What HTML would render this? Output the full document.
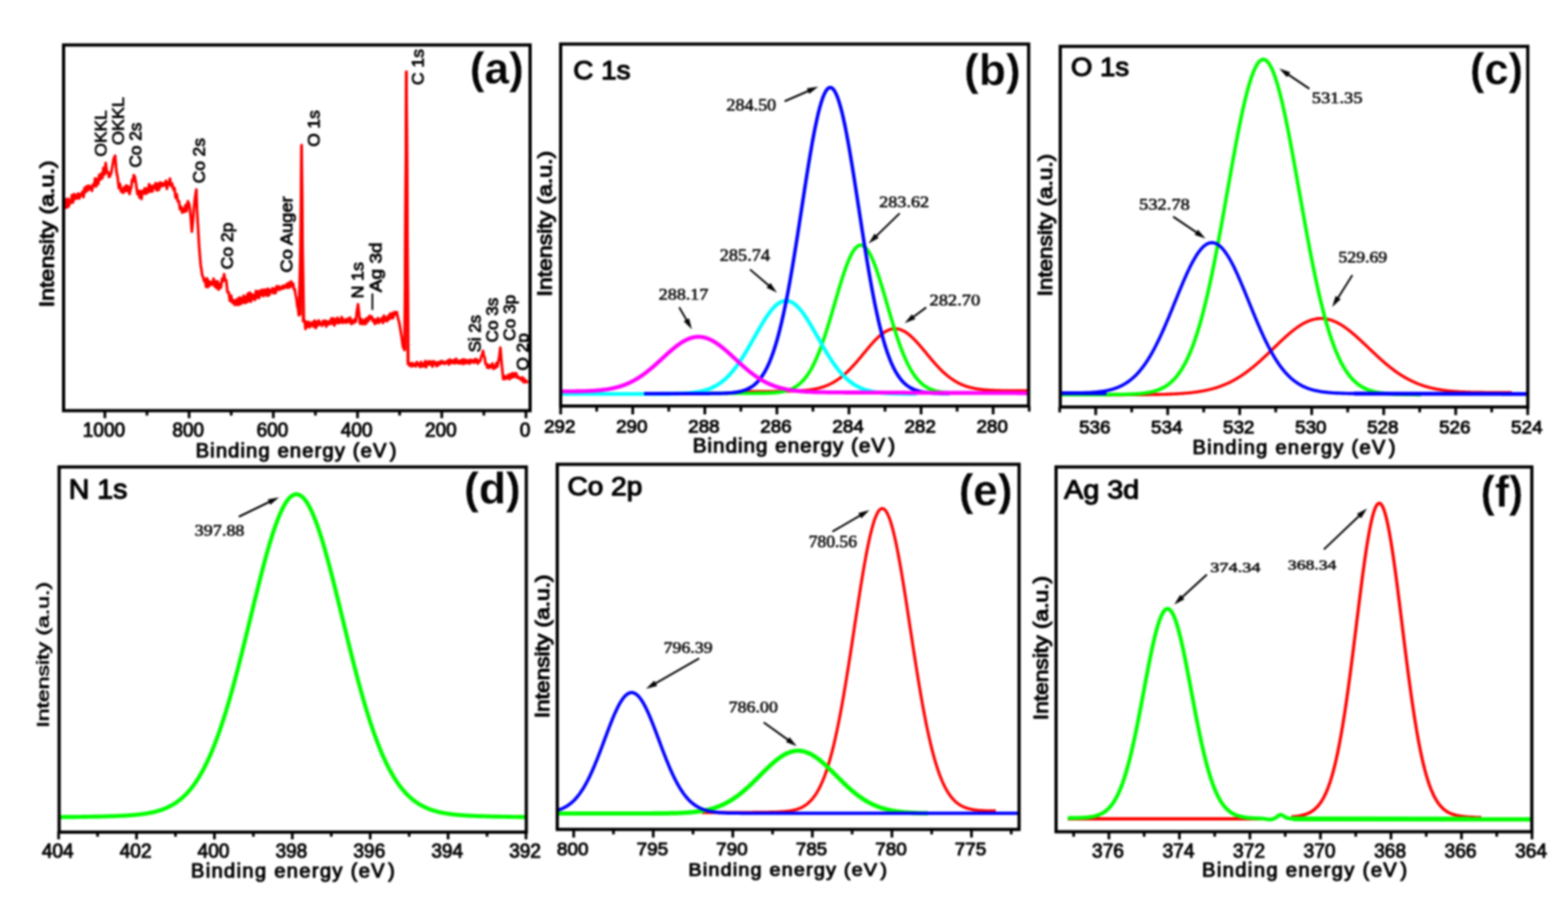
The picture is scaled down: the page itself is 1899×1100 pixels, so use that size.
<!DOCTYPE html>
<html lang="en"><head><meta charset="utf-8"><title>XPS spectra</title>
<style>
html,body{margin:0;padding:0;background:#fff;}
body{width:1899px;height:1100px;overflow:hidden;}
svg{display:block;filter:blur(0.85px);}
text{white-space:pre;}
</style></head><body>
<svg width="1899" height="1100" viewBox="0 0 1899 1100" id="fig">
<rect x="0" y="0" width="1899" height="1100" fill="#fff"/>
<defs><clipPath id="clipA"><rect x="77.0" y="54.5" width="563.8" height="443.0"/></clipPath></defs>
<polyline points="77.0,244.2 78.3,251.8 79.5,241.7 80.8,251.6 82.1,240.6 83.3,250.0 84.6,242.6 85.9,245.7 87.1,236.3 88.4,245.3 89.7,235.1 90.9,241.2 92.2,236.3 93.5,240.3 94.7,234.4 96.0,240.5 97.3,235.1 98.6,236.8 99.9,232.3 101.1,238.9 102.4,227.7 103.7,232.8 105.0,225.6 106.3,230.9 107.6,224.9 108.9,229.0 110.1,225.9 111.4,231.2 112.7,223.3 114.0,225.6 115.2,216.2 116.5,225.8 117.8,216.8 119.0,222.9 120.2,212.0 121.5,217.6 122.8,210.1 124.0,215.8 125.3,203.5 126.7,211.3 128.0,197.5 129.5,209.0 131.0,208.7 132.0,214.4 133.0,213.6 134.5,210.1 136.0,202.2 137.6,192.7 139.4,188.6 141.0,207.6 142.5,215.1 144.0,228.0 145.3,222.8 146.7,232.2 148.0,229.0 149.2,233.7 150.5,226.6 151.8,231.6 153.0,224.7 154.2,231.3 155.5,225.8 156.8,235.1 158.0,229.6 159.0,226.9 160.0,217.7 161.0,219.9 162.0,212.1 163.4,214.4 165.0,224.5 166.5,235.2 168.0,231.5 169.0,239.4 170.0,231.5 171.3,241.0 172.7,231.5 174.0,234.2 175.3,228.1 176.7,234.9 178.0,228.3 179.3,233.1 180.7,223.1 182.0,232.1 183.3,225.7 184.6,232.0 185.9,225.0 187.2,228.0 188.5,221.9 189.8,230.7 191.1,222.7 192.4,230.1 193.7,221.1 195.0,226.0 196.2,221.8 197.4,225.0 198.6,222.3 199.8,224.5 201.0,219.0 202.2,228.8 203.4,221.2 204.6,223.4 205.8,216.3 207.0,225.2 208.5,222.5 210.0,229.7 211.3,227.8 212.7,239.5 214.0,235.3 215.3,243.9 216.7,243.6 218.0,253.5 219.3,250.4 220.7,257.6 222.0,253.0 223.3,256.6 224.7,248.4 226.0,255.7 227.5,243.8 229.0,246.9 230.0,253.0 231.0,263.1 232.4,280.5 234.0,264.0 235.0,250.2 236.0,241.1 237.8,229.6 238.6,254.0 240.0,277.7 241.0,296.1 242.0,308.8 243.0,320.7 244.0,326.9 245.0,333.8 246.0,335.5 247.2,340.5 248.4,338.1 249.6,347.5 250.8,337.1 252.0,347.7 253.3,340.7 254.7,345.5 256.0,341.9 257.3,344.5 258.7,337.7 260.0,347.1 261.2,340.9 262.4,349.0 263.6,341.0 264.8,350.9 266.0,344.1 267.5,348.5 269.0,337.7 270.2,340.6 271.4,332.2 272.7,339.7 274.0,339.5 275.5,354.1 277.0,354.1 278.5,364.6 280.0,358.2 281.3,366.7 282.7,363.8 284.0,369.2 285.2,363.9 286.5,369.2 287.7,362.1 288.9,369.3 290.2,360.3 291.4,368.4 292.6,361.1 293.8,366.7 295.1,358.2 296.3,367.0 297.5,359.6 298.8,366.4 300.0,355.8 301.2,364.7 302.5,354.4 303.8,365.6 305.0,356.4 306.2,362.3 307.5,357.4 308.8,363.3 310.0,352.4 311.2,360.5 312.5,353.2 313.8,361.1 315.0,352.2 316.2,357.5 317.5,351.2 318.8,358.8 320.0,351.1 321.2,357.2 322.5,350.6 323.8,358.4 325.0,349.8 326.2,357.4 327.5,351.8 328.8,353.7 330.0,349.3 331.2,355.4 332.5,349.6 333.8,354.9 335.0,346.8 336.2,351.1 337.5,346.9 338.8,351.0 340.0,348.0 341.2,349.9 342.5,346.2 343.8,349.3 345.0,346.0 346.2,348.1 347.5,344.0 348.8,348.7 350.0,342.4 351.3,347.8 352.7,341.0 354.0,346.4 355.0,343.6 356.0,350.5 357.0,350.1 358.0,357.0 359.0,361.5 360.0,370.0 361.0,374.1 362.0,382.0 364.0,300.0 365.3,176.0 366.5,300.0 368.0,389.7 369.0,388.3 370.0,398.6 371.2,390.0 372.5,395.8 373.8,389.8 375.0,396.5 376.2,391.5 377.5,394.3 378.8,390.3 380.0,395.7 381.2,388.3 382.5,397.4 383.8,389.8 385.0,394.3 386.2,388.1 387.5,393.0 388.8,391.2 390.0,394.7 391.2,388.9 392.5,392.7 393.8,388.5 395.0,395.6 396.2,389.3 397.5,393.1 398.8,389.5 400.0,392.2 401.2,385.8 402.5,392.2 403.8,385.6 405.0,394.3 406.2,387.0 407.5,391.1 408.8,384.8 410.0,391.7 411.2,387.1 412.5,390.6 413.8,384.1 415.0,391.0 416.2,387.0 417.5,390.6 418.8,387.2 420.0,390.9 421.3,386.0 422.7,389.9 424.0,384.8 425.3,392.6 426.7,388.1 428.0,391.5 429.5,387.0 431.0,389.8 432.3,376.5 433.6,368.6 434.8,378.9 436.0,392.1 437.3,386.3 438.7,392.5 440.0,388.1 441.2,392.7 442.4,386.8 443.6,392.0 444.8,385.1 446.0,389.0 447.5,382.7 449.0,386.1 450.2,383.4 451.5,389.0 452.8,387.1 454.0,392.5 455.2,387.4 456.5,391.0 457.7,385.3 458.9,391.2 460.2,387.3 461.4,389.1 462.6,385.1 463.8,391.3 465.1,382.3 466.3,388.7 467.5,385.0 468.8,389.1 470.0,382.9 471.2,386.9 472.4,380.1 473.6,385.6 474.8,379.5 476.0,385.3 477.5,378.1 479.0,380.9 480.5,378.0 482.0,385.5 483.5,390.9 485.0,399.6 486.5,408.7 488.0,420.0 490.0,424.0 491.0,300.0 492.2,87.0 493.5,300.0 494.5,438.6 495.8,442.8 497.1,440.1 498.4,443.9 499.7,440.0 501.0,443.1 502.2,440.9 503.5,443.9 504.8,438.6 506.1,442.3 507.4,440.5 508.7,444.6 510.0,438.5 511.2,443.9 512.5,440.7 513.8,443.9 515.0,437.4 516.2,444.8 517.5,438.3 518.8,441.5 520.0,437.6 521.2,441.7 522.5,438.2 523.8,444.1 525.0,437.7 526.2,441.1 527.5,439.0 528.8,443.6 530.0,439.2 531.2,442.2 532.5,438.2 533.8,440.6 535.0,437.3 536.2,440.1 537.5,438.6 538.8,440.8 540.0,438.5 541.2,439.7 542.5,436.8 543.8,441.6 545.0,435.5 546.2,439.5 547.5,436.9 548.8,439.7 550.0,436.1 551.2,440.1 552.5,434.6 553.8,439.5 555.0,437.3 556.2,440.4 557.5,436.9 558.8,440.0 560.0,435.6 561.2,441.0 562.5,435.5 563.8,439.9 565.0,436.5 566.2,439.7 567.5,436.6 568.8,440.5 570.0,435.8 571.2,438.6 572.5,436.8 573.8,439.3 575.0,435.1 576.2,438.8 577.5,435.3 578.8,440.4 580.0,437.3 581.5,437.5 583.0,431.3 584.0,429.8 585.0,425.1 586.0,431.4 587.0,432.7 588.0,440.8 589.0,440.7 590.2,445.3 591.4,442.1 592.7,445.7 593.9,442.7 595.1,444.5 596.3,440.4 597.6,446.9 598.8,443.6 600.0,445.8 601.2,439.6 602.3,444.1 603.5,438.8 604.8,431.3 606.0,421.1 607.0,434.1 608.0,444.6 609.5,459.3 610.8,455.6 612.0,459.1 613.2,456.0 614.5,458.1 615.8,454.1 617.0,459.4 618.2,453.5 619.3,457.7 620.5,452.3 621.7,456.9 622.8,452.3 624.0,456.1 625.2,452.2 626.4,457.5 627.6,456.3 628.8,458.6 630.0,458.0 631.3,460.3 632.6,457.1 633.9,463.0 635.1,459.0 636.4,463.1 637.7,461.5 639.0,464.0" fill="none" stroke="#ff0000" stroke-width="3.3" stroke-linejoin="round" stroke-linecap="butt"/>
<polyline points="363.6,382.0 365.3,176.0 367.0,390.0" fill="none" stroke="#ff0000" stroke-width="3.0" stroke-linejoin="round" stroke-linecap="butt"/>
<polyline points="490.3,424.0 492.2,87.0 494.0,442.0" fill="none" stroke="#ff0000" stroke-width="3.2" stroke-linejoin="round" stroke-linecap="butt"/>
<rect x="77.00" y="54.50" width="565.00" height="443.00" fill="none" stroke="#000" stroke-width="3.9"/>
<line x1="127.00" y1="497.50" x2="127.00" y2="506.60" stroke="#000" stroke-width="3.3" stroke-linecap="butt"/>
<line x1="229.00" y1="497.50" x2="229.00" y2="506.60" stroke="#000" stroke-width="3.3" stroke-linecap="butt"/>
<line x1="331.00" y1="497.50" x2="331.00" y2="506.60" stroke="#000" stroke-width="3.3" stroke-linecap="butt"/>
<line x1="433.00" y1="497.50" x2="433.00" y2="506.60" stroke="#000" stroke-width="3.3" stroke-linecap="butt"/>
<line x1="535.00" y1="497.50" x2="535.00" y2="506.60" stroke="#000" stroke-width="3.3" stroke-linecap="butt"/>
<line x1="637.00" y1="497.50" x2="637.00" y2="506.60" stroke="#000" stroke-width="3.3" stroke-linecap="butt"/>
<line x1="178.00" y1="497.50" x2="178.00" y2="503.40" stroke="#000" stroke-width="3.3" stroke-linecap="butt"/>
<line x1="280.00" y1="497.50" x2="280.00" y2="503.40" stroke="#000" stroke-width="3.3" stroke-linecap="butt"/>
<line x1="382.00" y1="497.50" x2="382.00" y2="503.40" stroke="#000" stroke-width="3.3" stroke-linecap="butt"/>
<line x1="484.00" y1="497.50" x2="484.00" y2="503.40" stroke="#000" stroke-width="3.3" stroke-linecap="butt"/>
<line x1="586.00" y1="497.50" x2="586.00" y2="503.40" stroke="#000" stroke-width="3.3" stroke-linecap="butt"/>
<text transform="translate(100.28 528.92) scale(1.0000 1)" font-size="23.03" font-family="Liberation Sans, sans-serif" fill="#050505" stroke="#050505" stroke-width="1.1" stroke-linejoin="round">1000</text>
<text transform="translate(208.69 528.92) scale(1.0000 1)" font-size="23.03" font-family="Liberation Sans, sans-serif" fill="#050505" stroke="#050505" stroke-width="1.1" stroke-linejoin="round">800</text>
<text transform="translate(310.69 528.92) scale(1.0000 1)" font-size="23.03" font-family="Liberation Sans, sans-serif" fill="#050505" stroke="#050505" stroke-width="1.1" stroke-linejoin="round">600</text>
<text transform="translate(412.69 528.92) scale(1.0000 1)" font-size="23.03" font-family="Liberation Sans, sans-serif" fill="#050505" stroke="#050505" stroke-width="1.1" stroke-linejoin="round">400</text>
<text transform="translate(514.69 528.92) scale(1.0000 1)" font-size="23.03" font-family="Liberation Sans, sans-serif" fill="#050505" stroke="#050505" stroke-width="1.1" stroke-linejoin="round">200</text>
<text transform="translate(629.50 528.92) scale(1.0000 1)" font-size="23.03" font-family="Liberation Sans, sans-serif" fill="#050505" stroke="#050505" stroke-width="1.1" stroke-linejoin="round">0</text>
<text transform="translate(236.95 554.20) scale(1.0400 1)" font-size="23.48" letter-spacing="1.324" font-family="Liberation Sans, sans-serif" fill="#050505" stroke="#050505" stroke-width="1.2" stroke-linejoin="round">Binding energy (eV<tspan dx="2.50">)</tspan></text>
<text transform="translate(64.95 372.18) rotate(-90) scale(1.1332 1)" font-size="24.78" font-family="Liberation Sans, sans-serif" fill="#050505" stroke="#050505" stroke-width="1.3" stroke-linejoin="round">Intensity (a.u.)</text>
<text transform="translate(568.92 101.00) scale(0.9963 1)" font-size="53.80" font-family="Liberation Sans, sans-serif" font-weight="bold" fill="#050505" stroke="#fff" stroke-width="0.3" stroke-linejoin="round">(a)</text>
<text transform="translate(128.71 189.75) rotate(-90) scale(1.0925 1)" font-size="19.30" font-family="Liberation Sans, sans-serif" fill="#050505" stroke="#050505" stroke-width="0.8" stroke-linejoin="round">OKKL</text>
<text transform="translate(150.41 175.78) rotate(-90) scale(1.1325 1)" font-size="19.30" font-family="Liberation Sans, sans-serif" fill="#050505" stroke="#050505" stroke-width="0.8" stroke-linejoin="round">OKKL</text>
<text transform="translate(170.70 202.94) rotate(-90) scale(1.0661 1)" font-size="19.58" font-family="Liberation Sans, sans-serif" fill="#050505" stroke="#050505" stroke-width="1.0" stroke-linejoin="round">Co 2s</text>
<text transform="translate(248.10 221.94) rotate(-90) scale(1.0363 1)" font-size="20.14" font-family="Liberation Sans, sans-serif" fill="#050505" stroke="#050505" stroke-width="1.0" stroke-linejoin="round">Co 2s</text>
<text transform="translate(282.39 326.26) rotate(-90) scale(1.0223 1)" font-size="20.70" font-family="Liberation Sans, sans-serif" fill="#050505" stroke="#050505" stroke-width="1.0" stroke-linejoin="round">Co 2p</text>
<text transform="translate(354.10 330.21) rotate(-90) scale(1.1008 1)" font-size="20.14" font-family="Liberation Sans, sans-serif" fill="#050505" stroke="#050505" stroke-width="1.0" stroke-linejoin="round">Co Auger</text>
<text transform="translate(387.10 177.85) rotate(-90) scale(1.0444 1)" font-size="20.14" font-family="Liberation Sans, sans-serif" fill="#050505" stroke="#050505" stroke-width="1.0" stroke-linejoin="round">O 1s</text>
<text transform="translate(513.10 102.96) rotate(-90) scale(1.0510 1)" font-size="20.14" font-family="Liberation Sans, sans-serif" fill="#050505" stroke="#050505" stroke-width="1.0" stroke-linejoin="round">C 1s</text>
<text transform="translate(439.70 361.62) rotate(-90) scale(1.0979 1)" font-size="19.58" font-family="Liberation Sans, sans-serif" fill="#050505" stroke="#050505" stroke-width="1.0" stroke-linejoin="round">N 1s</text>
<text transform="translate(461.70 353.90) rotate(-90) scale(1.1781 1)" font-size="19.58" font-family="Liberation Sans, sans-serif" fill="#050505" stroke="#050505" stroke-width="1.0" stroke-linejoin="round">Ag 3d</text>
<line x1="451.00" y1="355.50" x2="451.00" y2="375.50" stroke="#111" stroke-width="2.3" stroke-linecap="butt"/>
<text transform="translate(582.10 426.82) rotate(-90) scale(1.0115 1)" font-size="20.14" font-family="Liberation Sans, sans-serif" fill="#050505" stroke="#050505" stroke-width="1.0" stroke-linejoin="round">Si 2s</text>
<text transform="translate(603.30 414.73) rotate(-90) scale(1.0264 1)" font-size="20.14" font-family="Liberation Sans, sans-serif" fill="#050505" stroke="#050505" stroke-width="1.0" stroke-linejoin="round">Co 3s</text>
<text transform="translate(623.89 412.95) rotate(-90) scale(1.0129 1)" font-size="20.70" font-family="Liberation Sans, sans-serif" fill="#050505" stroke="#050505" stroke-width="1.0" stroke-linejoin="round">Co 3p</text>
<g clip-path="url(#clipA)">
<text transform="translate(640.09 449.04) rotate(-90) scale(1.0101 1)" font-size="20.70" font-family="Liberation Sans, sans-serif" fill="#050505" stroke="#050505" stroke-width="1.0" stroke-linejoin="round">O 2p</text>
</g>
<polyline points="900.0,474.3 901.0,474.3 902.0,474.3 903.0,474.3 904.0,474.3 905.0,474.3 906.0,474.3 907.0,474.3 908.0,474.3 909.0,474.3 910.0,474.3 911.0,474.3 912.0,474.3 913.0,474.3 914.0,474.3 915.0,474.3 916.0,474.2 917.0,474.2 918.0,474.2 919.0,474.2 920.0,474.2 921.0,474.2 922.0,474.2 923.0,474.2 924.0,474.2 925.0,474.2 926.0,474.2 927.0,474.2 928.0,474.2 929.0,474.2 930.0,474.2 931.0,474.2 932.0,474.2 933.0,474.2 934.0,474.2 935.0,474.2 936.0,474.2 937.0,474.2 938.0,474.1 939.0,474.1 940.0,474.1 941.0,474.1 942.0,474.1 943.0,474.1 944.0,474.1 945.0,474.1 946.0,474.1 947.0,474.1 948.0,474.0 949.0,474.0 950.0,474.0 951.0,474.0 952.0,474.0 953.0,474.0 954.0,473.9 955.0,473.9 956.0,473.9 957.0,473.9 958.0,473.8 959.0,473.8 960.0,473.8 961.0,473.7 962.0,473.7 963.0,473.7 964.0,473.6 965.0,473.6 966.0,473.5 967.0,473.5 968.0,473.4 969.0,473.4 970.0,473.3 971.0,473.2 972.0,473.1 973.0,473.1 974.0,473.0 975.0,472.9 976.0,472.8 977.0,472.7 978.0,472.6 979.0,472.5 980.0,472.3 981.0,472.2 982.0,472.1 983.0,471.9 984.0,471.8 985.0,471.6 986.0,471.4 987.0,471.2 988.0,471.0 989.0,470.8 990.0,470.6 991.0,470.4 992.0,470.1 993.0,469.8 994.0,469.6 995.0,469.3 996.0,469.0 997.0,468.7 998.0,468.3 999.0,468.0 1000.0,467.6 1001.0,467.2 1002.0,466.8 1003.0,466.4 1004.0,465.9 1005.0,465.5 1006.0,465.0 1007.0,464.5 1008.0,463.9 1009.0,463.4 1010.0,462.8 1011.0,462.2 1012.0,461.6 1013.0,461.0 1014.0,460.3 1015.0,459.6 1016.0,458.9 1017.0,458.2 1018.0,457.5 1019.0,456.7 1020.0,455.9 1021.0,455.1 1022.0,454.2 1023.0,453.3 1024.0,452.5 1025.0,451.5 1026.0,450.6 1027.0,449.6 1028.0,448.7 1029.0,447.7 1030.0,446.6 1031.0,445.6 1032.0,444.5 1033.0,443.4 1034.0,442.3 1035.0,441.2 1036.0,440.1 1037.0,439.0 1038.0,437.8 1039.0,436.6 1040.0,435.4 1041.0,434.3 1042.0,433.1 1043.0,431.9 1044.0,430.6 1045.0,429.4 1046.0,428.2 1047.0,427.0 1048.0,425.8 1049.0,424.6 1050.0,423.4 1051.0,422.2 1052.0,421.0 1053.0,419.8 1054.0,418.6 1055.0,417.5 1056.0,416.4 1057.0,415.2 1058.0,414.1 1059.0,413.1 1060.0,412.0 1061.0,411.0 1062.0,410.0 1063.0,409.0 1064.0,408.1 1065.0,407.2 1066.0,406.3 1067.0,405.5 1068.0,404.7 1069.0,403.9 1070.0,403.2 1071.0,402.5 1072.0,401.9 1073.0,401.3 1074.0,400.8 1075.0,400.3 1076.0,399.9 1077.0,399.5 1078.0,399.1 1079.0,398.9 1080.0,398.6 1081.0,398.4 1082.0,398.3 1083.0,398.2 1084.0,398.2 1085.0,398.2 1086.0,398.3 1087.0,398.4 1088.0,398.6 1089.0,398.9 1090.0,399.1 1091.0,399.5 1092.0,399.9 1093.0,400.3 1094.0,400.8 1095.0,401.3 1096.0,401.9 1097.0,402.5 1098.0,403.2 1099.0,403.9 1100.0,404.7 1101.0,405.5 1102.0,406.3 1103.0,407.2 1104.0,408.1 1105.0,409.0 1106.0,410.0 1107.0,411.0 1108.0,412.0 1109.0,413.0 1110.0,414.1 1111.0,415.2 1112.0,416.3 1113.0,417.4 1114.0,418.6 1115.0,419.8 1116.0,420.9 1117.0,422.1 1118.0,423.3 1119.0,424.5 1120.0,425.7 1121.0,426.9 1122.0,428.1 1123.0,429.3 1124.0,430.5 1125.0,431.8 1126.0,432.9 1127.0,434.1 1128.0,435.3 1129.0,436.5 1130.0,437.7 1131.0,438.8 1132.0,439.9 1133.0,441.1 1134.0,442.2 1135.0,443.3 1136.0,444.3 1137.0,445.4 1138.0,446.4 1139.0,447.4 1140.0,448.4 1141.0,449.4 1142.0,450.4 1143.0,451.3 1144.0,452.2 1145.0,453.1 1146.0,453.9 1147.0,454.8 1148.0,455.6 1149.0,456.4 1150.0,457.2 1151.0,457.9 1152.0,458.6 1153.0,459.3 1154.0,460.0 1155.0,460.6 1156.0,461.3 1157.0,461.9 1158.0,462.5 1159.0,463.0 1160.0,463.6 1161.0,464.1 1162.0,464.6 1163.0,465.1 1164.0,465.5 1165.0,465.9 1166.0,466.4 1167.0,466.8 1168.0,467.1 1169.0,467.5 1170.0,467.9 1171.0,468.2 1172.0,468.5 1173.0,468.8 1174.0,469.1 1175.0,469.4 1176.0,469.6 1177.0,469.8 1178.0,470.1 1179.0,470.3 1180.0,470.5 1181.0,470.7 1182.0,470.9 1183.0,471.0 1184.0,471.2 1185.0,471.4 1186.0,471.5 1187.0,471.6 1188.0,471.8 1189.0,471.9 1190.0,472.0 1191.0,472.1 1192.0,472.2 1193.0,472.3 1194.0,472.4 1195.0,472.4 1196.0,472.5 1197.0,472.6 1198.0,472.6 1199.0,472.7 1200.0,472.8 1201.0,472.8 1202.0,472.8 1203.0,472.9 1204.0,472.9 1205.0,473.0 1206.0,473.0 1207.0,473.0 1208.0,473.1 1209.0,473.1 1210.0,473.1 1211.0,473.1 1212.0,473.2 1213.0,473.2 1214.0,473.2 1215.0,473.2 1216.0,473.2 1217.0,473.2 1218.0,473.2 1219.0,473.2 1220.0,473.3 1221.0,473.3 1222.0,473.3 1223.0,473.3 1224.0,473.3 1225.0,473.3 1226.0,473.3 1227.0,473.3 1228.0,473.3 1229.0,473.3 1230.0,473.3 1231.0,473.3 1232.0,473.3 1233.0,473.3 1234.0,473.3 1235.0,473.3 1236.0,473.3 1237.0,473.3 1238.0,473.3 1239.0,473.3 1240.0,473.3 1241.0,473.3 1242.0,473.3 1243.0,473.3 1244.0,473.3 1245.0,473.3" fill="none" stroke="#ff0000" stroke-width="3.6" stroke-linejoin="round" stroke-linecap="butt"/>
<polyline points="840.0,476.5 841.0,476.5 842.0,476.5 843.0,476.5 844.0,476.5 845.0,476.5 846.0,476.5 847.0,476.5 848.0,476.5 849.0,476.5 850.0,476.5 851.0,476.5 852.0,476.5 853.0,476.5 854.0,476.5 855.0,476.5 856.0,476.5 857.0,476.5 858.0,476.5 859.0,476.5 860.0,476.5 861.0,476.5 862.0,476.5 863.0,476.5 864.0,476.5 865.0,476.5 866.0,476.5 867.0,476.5 868.0,476.5 869.0,476.5 870.0,476.5 871.0,476.5 872.0,476.5 873.0,476.5 874.0,476.5 875.0,476.5 876.0,476.5 877.0,476.5 878.0,476.5 879.0,476.5 880.0,476.5 881.0,476.5 882.0,476.5 883.0,476.5 884.0,476.5 885.0,476.5 886.0,476.5 887.0,476.5 888.0,476.5 889.0,476.5 890.0,476.5 891.0,476.5 892.0,476.5 893.0,476.5 894.0,476.5 895.0,476.5 896.0,476.5 897.0,476.5 898.0,476.5 899.0,476.5 900.0,476.5 901.0,476.5 902.0,476.5 903.0,476.5 904.0,476.5 905.0,476.5 906.0,476.5 907.0,476.5 908.0,476.5 909.0,476.5 910.0,476.5 911.0,476.5 912.0,476.5 913.0,476.5 914.0,476.5 915.0,476.4 916.0,476.4 917.0,476.4 918.0,476.4 919.0,476.4 920.0,476.4 921.0,476.4 922.0,476.4 923.0,476.4 924.0,476.3 925.0,476.3 926.0,476.3 927.0,476.3 928.0,476.2 929.0,476.2 930.0,476.2 931.0,476.1 932.0,476.1 933.0,476.1 934.0,476.0 935.0,475.9 936.0,475.9 937.0,475.8 938.0,475.7 939.0,475.7 940.0,475.6 941.0,475.5 942.0,475.4 943.0,475.2 944.0,475.1 945.0,475.0 946.0,474.8 947.0,474.6 948.0,474.4 949.0,474.2 950.0,474.0 951.0,473.8 952.0,473.5 953.0,473.2 954.0,472.9 955.0,472.6 956.0,472.3 957.0,471.9 958.0,471.5 959.0,471.0 960.0,470.6 961.0,470.0 962.0,469.5 963.0,468.9 964.0,468.3 965.0,467.6 966.0,466.9 967.0,466.2 968.0,465.4 969.0,464.5 970.0,463.6 971.0,462.6 972.0,461.6 973.0,460.5 974.0,459.4 975.0,458.2 976.0,456.9 977.0,455.6 978.0,454.1 979.0,452.7 980.0,451.1 981.0,449.5 982.0,447.8 983.0,446.0 984.0,444.2 985.0,442.2 986.0,440.2 987.0,438.1 988.0,435.9 989.0,433.7 990.0,431.3 991.0,428.9 992.0,426.4 993.0,423.9 994.0,421.2 995.0,418.5 996.0,415.7 997.0,412.8 998.0,409.9 999.0,406.9 1000.0,403.8 1001.0,400.7 1002.0,397.5 1003.0,394.3 1004.0,391.0 1005.0,387.7 1006.0,384.4 1007.0,381.0 1008.0,377.6 1009.0,374.2 1010.0,370.7 1011.0,367.3 1012.0,363.8 1013.0,360.4 1014.0,357.0 1015.0,353.6 1016.0,350.2 1017.0,346.9 1018.0,343.6 1019.0,340.4 1020.0,337.2 1021.0,334.1 1022.0,331.1 1023.0,328.1 1024.0,325.3 1025.0,322.5 1026.0,319.9 1027.0,317.3 1028.0,314.9 1029.0,312.7 1030.0,310.5 1031.0,308.5 1032.0,306.6 1033.0,304.9 1034.0,303.4 1035.0,302.0 1036.0,300.8 1037.0,299.7 1038.0,298.8 1039.0,298.1 1040.0,297.6 1041.0,297.2 1042.0,297.0 1043.0,297.0 1044.0,297.2 1045.0,297.6 1046.0,298.1 1047.0,298.8 1048.0,299.7 1049.0,300.8 1050.0,302.0 1051.0,303.4 1052.0,304.9 1053.0,306.6 1054.0,308.5 1055.0,310.5 1056.0,312.7 1057.0,314.9 1058.0,317.3 1059.0,319.9 1060.0,322.5 1061.0,325.3 1062.0,328.1 1063.0,331.1 1064.0,334.1 1065.0,337.2 1066.0,340.4 1067.0,343.6 1068.0,346.9 1069.0,350.2 1070.0,353.6 1071.0,357.0 1072.0,360.4 1073.0,363.8 1074.0,367.3 1075.0,370.7 1076.0,374.2 1077.0,377.6 1078.0,381.0 1079.0,384.4 1080.0,387.7 1081.0,391.0 1082.0,394.3 1083.0,397.5 1084.0,400.7 1085.0,403.8 1086.0,406.9 1087.0,409.9 1088.0,412.8 1089.0,415.7 1090.0,418.5 1091.0,421.2 1092.0,423.9 1093.0,426.4 1094.0,428.9 1095.0,431.3 1096.0,433.7 1097.0,435.9 1098.0,438.1 1099.0,440.2 1100.0,442.2 1101.0,444.2 1102.0,446.0 1103.0,447.8 1104.0,449.5 1105.0,451.1 1106.0,452.7 1107.0,454.1 1108.0,455.6 1109.0,456.9 1110.0,458.2 1111.0,459.4 1112.0,460.5 1113.0,461.6 1114.0,462.6 1115.0,463.6 1116.0,464.5 1117.0,465.4 1118.0,466.2 1119.0,466.9 1120.0,467.6 1121.0,468.3 1122.0,468.9 1123.0,469.5 1124.0,470.0 1125.0,470.6 1126.0,471.0 1127.0,471.5 1128.0,471.9 1129.0,472.3 1130.0,472.6 1131.0,472.9 1132.0,473.2 1133.0,473.5 1134.0,473.8 1135.0,474.0 1136.0,474.2 1137.0,474.4 1138.0,474.6 1139.0,474.8 1140.0,475.0 1141.0,475.1 1142.0,475.2 1143.0,475.4 1144.0,475.5 1145.0,475.6 1146.0,475.7 1147.0,475.7 1148.0,475.8 1149.0,475.9 1150.0,475.9" fill="none" stroke="#00ff00" stroke-width="4.2" stroke-linejoin="round" stroke-linecap="butt"/>
<polyline points="680.0,477.2 681.0,477.2 682.0,477.2 683.0,477.2 684.0,477.2 685.0,477.2 686.0,477.2 687.0,477.2 688.0,477.2 689.0,477.2 690.0,477.2 691.0,477.2 692.0,477.2 693.0,477.2 694.0,477.2 695.0,477.2 696.0,477.2 697.0,477.2 698.0,477.2 699.0,477.2 700.0,477.2 701.0,477.2 702.0,477.2 703.0,477.2 704.0,477.2 705.0,477.2 706.0,477.2 707.0,477.2 708.0,477.2 709.0,477.2 710.0,477.2 711.0,477.2 712.0,477.2 713.0,477.2 714.0,477.2 715.0,477.2 716.0,477.2 717.0,477.2 718.0,477.2 719.0,477.2 720.0,477.2 721.0,477.2 722.0,477.2 723.0,477.2 724.0,477.2 725.0,477.2 726.0,477.2 727.0,477.2 728.0,477.2 729.0,477.2 730.0,477.2 731.0,477.2 732.0,477.2 733.0,477.2 734.0,477.2 735.0,477.2 736.0,477.2 737.0,477.2 738.0,477.2 739.0,477.2 740.0,477.2 741.0,477.2 742.0,477.2 743.0,477.2 744.0,477.2 745.0,477.2 746.0,477.2 747.0,477.2 748.0,477.2 749.0,477.2 750.0,477.2 751.0,477.2 752.0,477.2 753.0,477.2 754.0,477.2 755.0,477.2 756.0,477.2 757.0,477.2 758.0,477.2 759.0,477.2 760.0,477.2 761.0,477.2 762.0,477.2 763.0,477.2 764.0,477.2 765.0,477.2 766.0,477.2 767.0,477.2 768.0,477.2 769.0,477.2 770.0,477.2 771.0,477.2 772.0,477.2 773.0,477.2 774.0,477.2 775.0,477.2 776.0,477.2 777.0,477.2 778.0,477.2 779.0,477.2 780.0,477.2 781.0,477.2 782.0,477.2 783.0,477.2 784.0,477.2 785.0,477.2 786.0,477.2 787.0,477.2 788.0,477.2 789.0,477.2 790.0,477.2 791.0,477.2 792.0,477.2 793.0,477.2 794.0,477.2 795.0,477.2 796.0,477.2 797.0,477.2 798.0,477.2 799.0,477.2 800.0,477.2 801.0,477.1 802.0,477.1 803.0,477.1 804.0,477.1 805.0,477.1 806.0,477.1 807.0,477.1 808.0,477.1 809.0,477.1 810.0,477.1 811.0,477.1 812.0,477.0 813.0,477.0 814.0,477.0 815.0,477.0 816.0,477.0 817.0,477.0 818.0,476.9 819.0,476.9 820.0,476.9 821.0,476.9 822.0,476.8 823.0,476.8 824.0,476.8 825.0,476.7 826.0,476.7 827.0,476.6 828.0,476.6 829.0,476.5 830.0,476.5 831.0,476.4 832.0,476.3 833.0,476.2 834.0,476.2 835.0,476.1 836.0,476.0 837.0,475.9 838.0,475.8 839.0,475.7 840.0,475.6 841.0,475.4 842.0,475.3 843.0,475.1 844.0,475.0 845.0,474.8 846.0,474.7 847.0,474.5 848.0,474.3 849.0,474.1 850.0,473.8 851.0,473.6 852.0,473.3 853.0,473.1 854.0,472.8 855.0,472.5 856.0,472.2 857.0,471.8 858.0,471.5 859.0,471.1 860.0,470.7 861.0,470.3 862.0,469.9 863.0,469.4 864.0,468.9 865.0,468.4 866.0,467.9 867.0,467.3 868.0,466.8 869.0,466.2 870.0,465.5 871.0,464.9 872.0,464.2 873.0,463.5 874.0,462.7 875.0,461.9 876.0,461.1 877.0,460.3 878.0,459.4 879.0,458.5 880.0,457.6 881.0,456.6 882.0,455.6 883.0,454.6 884.0,453.5 885.0,452.4 886.0,451.2 887.0,450.1 888.0,448.9 889.0,447.6 890.0,446.4 891.0,445.0 892.0,443.7 893.0,442.3 894.0,440.9 895.0,439.5 896.0,438.0 897.0,436.5 898.0,435.0 899.0,433.5 900.0,431.9 901.0,430.3 902.0,428.7 903.0,427.0 904.0,425.3 905.0,423.7 906.0,422.0 907.0,420.2 908.0,418.5 909.0,416.7 910.0,415.0 911.0,413.2 912.0,411.4 913.0,409.7 914.0,407.9 915.0,406.1 916.0,404.3 917.0,402.6 918.0,400.8 919.0,399.1 920.0,397.3 921.0,395.6 922.0,393.9 923.0,392.3 924.0,390.6 925.0,389.0 926.0,387.4 927.0,385.8 928.0,384.3 929.0,382.8 930.0,381.4 931.0,380.0 932.0,378.6 933.0,377.3 934.0,376.1 935.0,374.9 936.0,373.7 937.0,372.6 938.0,371.6 939.0,370.7 940.0,369.7 941.0,368.9 942.0,368.1 943.0,367.4 944.0,366.8 945.0,366.2 946.0,365.8 947.0,365.3 948.0,365.0 949.0,364.7 950.0,364.6 951.0,364.4 952.0,364.4 953.0,364.4 954.0,364.6 955.0,364.7 956.0,365.0 957.0,365.3 958.0,365.8 959.0,366.2 960.0,366.8 961.0,367.4 962.0,368.1 963.0,368.9 964.0,369.7 965.0,370.7 966.0,371.6 967.0,372.6 968.0,373.7 969.0,374.9 970.0,376.1 971.0,377.3 972.0,378.6 973.0,380.0 974.0,381.4 975.0,382.8 976.0,384.3 977.0,385.8 978.0,387.4 979.0,389.0 980.0,390.6 981.0,392.3 982.0,393.9 983.0,395.6 984.0,397.3 985.0,399.1 986.0,400.8 987.0,402.6 988.0,404.3 989.0,406.1 990.0,407.9 991.0,409.7 992.0,411.4 993.0,413.2 994.0,415.0 995.0,416.7 996.0,418.5 997.0,420.2 998.0,422.0 999.0,423.7 1000.0,425.3 1001.0,427.0 1002.0,428.7 1003.0,430.3 1004.0,431.9 1005.0,433.5 1006.0,435.0 1007.0,436.5 1008.0,438.0 1009.0,439.5 1010.0,440.9 1011.0,442.3 1012.0,443.7 1013.0,445.0 1014.0,446.4 1015.0,447.6 1016.0,448.9 1017.0,450.1 1018.0,451.2 1019.0,452.4 1020.0,453.5 1021.0,454.6 1022.0,455.6 1023.0,456.6 1024.0,457.6 1025.0,458.5 1026.0,459.4 1027.0,460.3 1028.0,461.1 1029.0,461.9 1030.0,462.7 1031.0,463.5 1032.0,464.2 1033.0,464.9 1034.0,465.5 1035.0,466.2 1036.0,466.8 1037.0,467.3 1038.0,467.9 1039.0,468.4 1040.0,468.9 1041.0,469.4 1042.0,469.9 1043.0,470.3 1044.0,470.7 1045.0,471.1 1046.0,471.5 1047.0,471.8 1048.0,472.2 1049.0,472.5 1050.0,472.8 1051.0,473.1 1052.0,473.3 1053.0,473.6 1054.0,473.8 1055.0,474.1 1056.0,474.3 1057.0,474.5 1058.0,474.7 1059.0,474.8 1060.0,475.0 1061.0,475.1 1062.0,475.3 1063.0,475.4 1064.0,475.6 1065.0,475.7 1066.0,475.8 1067.0,475.9 1068.0,476.0 1069.0,476.1 1070.0,476.2 1071.0,476.2 1072.0,476.3 1073.0,476.4 1074.0,476.5 1075.0,476.5 1076.0,476.6 1077.0,476.6 1078.0,476.7 1079.0,476.7 1080.0,476.8 1081.0,476.8 1082.0,476.8 1083.0,476.9 1084.0,476.9 1085.0,476.9 1086.0,476.9 1087.0,477.0 1088.0,477.0 1089.0,477.0 1090.0,477.0 1091.0,477.0 1092.0,477.0 1093.0,477.1 1094.0,477.1 1095.0,477.1 1096.0,477.1 1097.0,477.1 1098.0,477.1 1099.0,477.1 1100.0,477.1 1101.0,477.1 1102.0,477.1 1103.0,477.1 1104.0,477.2 1105.0,477.2 1106.0,477.2 1107.0,477.2 1108.0,477.2 1109.0,477.2 1110.0,477.2" fill="none" stroke="#00ffff" stroke-width="4.6" stroke-linejoin="round" stroke-linecap="butt"/>
<polyline points="780.0,476.8 781.0,476.8 782.0,476.8 783.0,476.8 784.0,476.8 785.0,476.8 786.0,476.8 787.0,476.8 788.0,476.8 789.0,476.8 790.0,476.8 791.0,476.8 792.0,476.8 793.0,476.8 794.0,476.8 795.0,476.8 796.0,476.8 797.0,476.8 798.0,476.8 799.0,476.8 800.0,476.8 801.0,476.8 802.0,476.8 803.0,476.8 804.0,476.8 805.0,476.8 806.0,476.8 807.0,476.8 808.0,476.8 809.0,476.8 810.0,476.8 811.0,476.8 812.0,476.8 813.0,476.8 814.0,476.8 815.0,476.8 816.0,476.8 817.0,476.8 818.0,476.8 819.0,476.8 820.0,476.8 821.0,476.8 822.0,476.8 823.0,476.8 824.0,476.8 825.0,476.8 826.0,476.8 827.0,476.8 828.0,476.8 829.0,476.8 830.0,476.8 831.0,476.8 832.0,476.8 833.0,476.8 834.0,476.8 835.0,476.8 836.0,476.8 837.0,476.8 838.0,476.8 839.0,476.8 840.0,476.8 841.0,476.8 842.0,476.8 843.0,476.8 844.0,476.8 845.0,476.8 846.0,476.8 847.0,476.8 848.0,476.8 849.0,476.8 850.0,476.8 851.0,476.8 852.0,476.8 853.0,476.8 854.0,476.8 855.0,476.8 856.0,476.8 857.0,476.8 858.0,476.8 859.0,476.8 860.0,476.7 861.0,476.7 862.0,476.7 863.0,476.7 864.0,476.7 865.0,476.7 866.0,476.7 867.0,476.7 868.0,476.7 869.0,476.7 870.0,476.6 871.0,476.6 872.0,476.6 873.0,476.6 874.0,476.5 875.0,476.5 876.0,476.5 877.0,476.4 878.0,476.4 879.0,476.4 880.0,476.3 881.0,476.2 882.0,476.2 883.0,476.1 884.0,476.0 885.0,476.0 886.0,475.9 887.0,475.8 888.0,475.7 889.0,475.6 890.0,475.4 891.0,475.3 892.0,475.1 893.0,475.0 894.0,474.8 895.0,474.6 896.0,474.4 897.0,474.2 898.0,473.9 899.0,473.6 900.0,473.3 901.0,473.0 902.0,472.7 903.0,472.3 904.0,471.9 905.0,471.5 906.0,471.0 907.0,470.5 908.0,470.0 909.0,469.4 910.0,468.8 911.0,468.1 912.0,467.4 913.0,466.6 914.0,465.8 915.0,464.9 916.0,464.0 917.0,463.0 918.0,461.9 919.0,460.8 920.0,459.6 921.0,458.3 922.0,457.0 923.0,455.5 924.0,454.0 925.0,452.4 926.0,450.7 927.0,448.9 928.0,447.1 929.0,445.1 930.0,443.0 931.0,440.8 932.0,438.5 933.0,436.0 934.0,433.5 935.0,430.8 936.0,428.1 937.0,425.1 938.0,422.1 939.0,418.9 940.0,415.6 941.0,412.2 942.0,408.6 943.0,404.9 944.0,401.1 945.0,397.1 946.0,393.0 947.0,388.7 948.0,384.3 949.0,379.8 950.0,375.1 951.0,370.3 952.0,365.4 953.0,360.3 954.0,355.1 955.0,349.8 956.0,344.3 957.0,338.8 958.0,333.1 959.0,327.3 960.0,321.4 961.0,315.4 962.0,309.3 963.0,303.2 964.0,296.9 965.0,290.6 966.0,284.3 967.0,277.9 968.0,271.4 969.0,264.9 970.0,258.4 971.0,251.9 972.0,245.4 973.0,238.9 974.0,232.4 975.0,225.9 976.0,219.5 977.0,213.2 978.0,206.9 979.0,200.7 980.0,194.6 981.0,188.6 982.0,182.8 983.0,177.0 984.0,171.4 985.0,166.0 986.0,160.7 987.0,155.7 988.0,150.8 989.0,146.1 990.0,141.6 991.0,137.3 992.0,133.3 993.0,129.6 994.0,126.0 995.0,122.8 996.0,119.8 997.0,117.1 998.0,114.7 999.0,112.5 1000.0,110.7 1001.0,109.1 1002.0,107.9 1003.0,107.0 1004.0,106.4 1005.0,106.0 1006.0,106.0 1007.0,106.4 1008.0,107.0 1009.0,107.9 1010.0,109.1 1011.0,110.7 1012.0,112.5 1013.0,114.7 1014.0,117.1 1015.0,119.8 1016.0,122.8 1017.0,126.0 1018.0,129.6 1019.0,133.3 1020.0,137.3 1021.0,141.6 1022.0,146.1 1023.0,150.8 1024.0,155.7 1025.0,160.7 1026.0,166.0 1027.0,171.4 1028.0,177.0 1029.0,182.8 1030.0,188.6 1031.0,194.6 1032.0,200.7 1033.0,206.9 1034.0,213.2 1035.0,219.5 1036.0,225.9 1037.0,232.4 1038.0,238.9 1039.0,245.4 1040.0,251.9 1041.0,258.4 1042.0,264.9 1043.0,271.4 1044.0,277.9 1045.0,284.3 1046.0,290.6 1047.0,296.9 1048.0,303.2 1049.0,309.3 1050.0,315.4 1051.0,321.4 1052.0,327.3 1053.0,333.1 1054.0,338.8 1055.0,344.3 1056.0,349.8 1057.0,355.1 1058.0,360.3 1059.0,365.4 1060.0,370.3 1061.0,375.1 1062.0,379.8 1063.0,384.3 1064.0,388.7 1065.0,393.0 1066.0,397.1 1067.0,401.1 1068.0,404.9 1069.0,408.6 1070.0,412.2 1071.0,415.6 1072.0,418.9 1073.0,422.1 1074.0,425.1 1075.0,428.1 1076.0,430.8 1077.0,433.5 1078.0,436.0 1079.0,438.5 1080.0,440.8 1081.0,443.0 1082.0,445.1 1083.0,447.1 1084.0,448.9 1085.0,450.7 1086.0,452.4 1087.0,454.0 1088.0,455.5 1089.0,457.0 1090.0,458.3 1091.0,459.6 1092.0,460.8 1093.0,461.9 1094.0,463.0 1095.0,464.0 1096.0,464.9 1097.0,465.8 1098.0,466.6 1099.0,467.4 1100.0,468.1 1101.0,468.8 1102.0,469.4 1103.0,470.0 1104.0,470.5 1105.0,471.0 1106.0,471.5 1107.0,471.9 1108.0,472.3 1109.0,472.7 1110.0,473.0 1111.0,473.3 1112.0,473.6 1113.0,473.9 1114.0,474.2 1115.0,474.4 1116.0,474.6 1117.0,474.8 1118.0,475.0 1119.0,475.1 1120.0,475.3 1121.0,475.4 1122.0,475.6 1123.0,475.7 1124.0,475.8 1125.0,475.9 1126.0,476.0 1127.0,476.0 1128.0,476.1 1129.0,476.2 1130.0,476.2 1131.0,476.3 1132.0,476.4 1133.0,476.4 1134.0,476.4 1135.0,476.5 1136.0,476.5 1137.0,476.5 1138.0,476.6 1139.0,476.6 1140.0,476.6 1141.0,476.6 1142.0,476.7 1143.0,476.7 1144.0,476.7 1145.0,476.7 1146.0,476.7 1147.0,476.7 1148.0,476.7 1149.0,476.7 1150.0,476.7" fill="none" stroke="#0000ff" stroke-width="4.2" stroke-linejoin="round" stroke-linecap="butt"/>
<polyline points="680.0,474.1 681.0,474.1 682.0,474.1 683.0,474.1 684.0,474.1 685.0,474.1 686.0,474.1 687.0,474.1 688.0,474.1 689.0,474.1 690.0,474.1 691.0,474.1 692.0,474.1 693.0,474.1 694.0,474.1 695.0,474.1 696.0,474.1 697.0,474.1 698.0,474.0 699.0,474.0 700.0,474.0 701.0,474.0 702.0,474.0 703.0,474.0 704.0,473.9 705.0,473.9 706.0,473.9 707.0,473.9 708.0,473.8 709.0,473.8 710.0,473.8 711.0,473.7 712.0,473.7 713.0,473.6 714.0,473.6 715.0,473.6 716.0,473.5 717.0,473.5 718.0,473.4 719.0,473.3 720.0,473.3 721.0,473.2 722.0,473.1 723.0,473.0 724.0,473.0 725.0,472.9 726.0,472.8 727.0,472.7 728.0,472.6 729.0,472.5 730.0,472.4 731.0,472.2 732.0,472.1 733.0,472.0 734.0,471.8 735.0,471.7 736.0,471.5 737.0,471.4 738.0,471.2 739.0,471.0 740.0,470.8 741.0,470.6 742.0,470.4 743.0,470.2 744.0,470.0 745.0,469.7 746.0,469.5 747.0,469.2 748.0,469.0 749.0,468.7 750.0,468.4 751.0,468.1 752.0,467.8 753.0,467.4 754.0,467.1 755.0,466.7 756.0,466.4 757.0,466.0 758.0,465.6 759.0,465.2 760.0,464.7 761.0,464.3 762.0,463.8 763.0,463.4 764.0,462.9 765.0,462.4 766.0,461.9 767.0,461.3 768.0,460.8 769.0,460.2 770.0,459.7 771.0,459.1 772.0,458.5 773.0,457.8 774.0,457.2 775.0,456.6 776.0,455.9 777.0,455.2 778.0,454.5 779.0,453.8 780.0,453.1 781.0,452.3 782.0,451.6 783.0,450.8 784.0,450.0 785.0,449.2 786.0,448.4 787.0,447.6 788.0,446.8 789.0,445.9 790.0,445.1 791.0,444.2 792.0,443.4 793.0,442.5 794.0,441.6 795.0,440.7 796.0,439.8 797.0,438.9 798.0,438.0 799.0,437.1 800.0,436.2 801.0,435.2 802.0,434.3 803.0,433.4 804.0,432.5 805.0,431.6 806.0,430.6 807.0,429.7 808.0,428.8 809.0,427.9 810.0,427.0 811.0,426.2 812.0,425.3 813.0,424.4 814.0,423.6 815.0,422.7 816.0,421.9 817.0,421.1 818.0,420.3 819.0,419.5 820.0,418.7 821.0,418.0 822.0,417.3 823.0,416.6 824.0,415.9 825.0,415.2 826.0,414.6 827.0,414.0 828.0,413.4 829.0,412.8 830.0,412.3 831.0,411.8 832.0,411.3 833.0,410.9 834.0,410.4 835.0,410.1 836.0,409.7 837.0,409.4 838.0,409.1 839.0,408.8 840.0,408.6 841.0,408.4 842.0,408.3 843.0,408.2 844.0,408.1 845.0,408.0 846.0,408.0 847.0,408.0 848.0,408.1 849.0,408.2 850.0,408.3 851.0,408.4 852.0,408.6 853.0,408.8 854.0,409.1 855.0,409.4 856.0,409.7 857.0,410.1 858.0,410.5 859.0,410.9 860.0,411.3 861.0,411.8 862.0,412.3 863.0,412.8 864.0,413.4 865.0,414.0 866.0,414.6 867.0,415.2 868.0,415.9 869.0,416.6 870.0,417.3 871.0,418.0 872.0,418.8 873.0,419.5 874.0,420.3 875.0,421.1 876.0,421.9 877.0,422.8 878.0,423.6 879.0,424.5 880.0,425.3 881.0,426.2 882.0,427.1 883.0,428.0 884.0,428.9 885.0,429.8 886.0,430.8 887.0,431.7 888.0,432.6 889.0,433.5 890.0,434.4 891.0,435.4 892.0,436.3 893.0,437.2 894.0,438.1 895.0,439.1 896.0,440.0 897.0,440.9 898.0,441.8 899.0,442.7 900.0,443.6 901.0,444.4 902.0,445.3 903.0,446.2 904.0,447.0 905.0,447.9 906.0,448.7 907.0,449.5 908.0,450.3 909.0,451.1 910.0,451.9 911.0,452.7 912.0,453.4 913.0,454.1 914.0,454.9 915.0,455.6 916.0,456.3 917.0,456.9 918.0,457.6 919.0,458.3 920.0,458.9 921.0,459.5 922.0,460.1 923.0,460.7 924.0,461.3 925.0,461.8 926.0,462.4 927.0,462.9 928.0,463.4 929.0,463.9 930.0,464.4 931.0,464.8 932.0,465.3 933.0,465.7 934.0,466.1 935.0,466.5 936.0,466.9 937.0,467.3 938.0,467.7 939.0,468.0 940.0,468.4 941.0,468.7 942.0,469.0 943.0,469.3 944.0,469.6 945.0,469.9 946.0,470.2 947.0,470.4 948.0,470.7 949.0,470.9 950.0,471.1 951.0,471.4 952.0,471.6 953.0,471.8 954.0,472.0 955.0,472.1 956.0,472.3 957.0,472.5 958.0,472.6 959.0,472.8 960.0,472.9 961.0,473.1 962.0,473.2 963.0,473.3 964.0,473.4 965.0,473.6 966.0,473.7 967.0,473.8 968.0,473.9 969.0,473.9 970.0,474.0 971.0,474.1 972.0,474.2 973.0,474.3 974.0,474.3 975.0,474.4 976.0,474.5 977.0,474.5 978.0,474.6 979.0,474.6 980.0,474.7 981.0,474.7 982.0,474.8 983.0,474.8 984.0,474.8 985.0,474.9 986.0,474.9 987.0,475.0 988.0,475.0 989.0,475.0 990.0,475.0 991.0,475.1 992.0,475.1 993.0,475.1 994.0,475.1 995.0,475.2 996.0,475.2 997.0,475.2 998.0,475.2 999.0,475.2 1000.0,475.2 1001.0,475.3 1002.0,475.3 1003.0,475.3 1004.0,475.3 1005.0,475.3 1006.0,475.3 1007.0,475.3 1008.0,475.3 1009.0,475.4 1010.0,475.4 1011.0,475.4 1012.0,475.4 1013.0,475.4 1014.0,475.4 1015.0,475.4 1016.0,475.4 1017.0,475.4 1018.0,475.4 1019.0,475.4 1020.0,475.4 1021.0,475.4 1022.0,475.4 1023.0,475.5 1024.0,475.5 1025.0,475.5 1026.0,475.5 1027.0,475.5 1028.0,475.5 1029.0,475.5 1030.0,475.5 1031.0,475.5 1032.0,475.5 1033.0,475.5 1034.0,475.5 1035.0,475.5 1036.0,475.5 1037.0,475.5 1038.0,475.5 1039.0,475.5 1040.0,475.5 1041.0,475.5 1042.0,475.5 1043.0,475.5 1044.0,475.6 1045.0,475.6 1046.0,475.6 1047.0,475.6 1048.0,475.6 1049.0,475.6 1050.0,475.6 1051.0,475.6 1052.0,475.6 1053.0,475.6 1054.0,475.6 1055.0,475.6 1056.0,475.6 1057.0,475.6 1058.0,475.6 1059.0,475.6 1060.0,475.6 1061.0,475.6 1062.0,475.6 1063.0,475.6 1064.0,475.6 1065.0,475.6 1066.0,475.6 1067.0,475.6 1068.0,475.6 1069.0,475.6 1070.0,475.6 1071.0,475.7 1072.0,475.7 1073.0,475.7 1074.0,475.7 1075.0,475.7 1076.0,475.7 1077.0,475.7 1078.0,475.7 1079.0,475.7 1080.0,475.7 1081.0,475.7 1082.0,475.7 1083.0,475.7 1084.0,475.7 1085.0,475.7 1086.0,475.7 1087.0,475.7 1088.0,475.7 1089.0,475.7 1090.0,475.7 1091.0,475.7 1092.0,475.7 1093.0,475.7 1094.0,475.7 1095.0,475.7 1096.0,475.7 1097.0,475.7 1098.0,475.8 1099.0,475.8 1100.0,475.8 1101.0,475.8 1102.0,475.8 1103.0,475.8 1104.0,475.8 1105.0,475.8 1106.0,475.8 1107.0,475.8 1108.0,475.8 1109.0,475.8 1110.0,475.8 1111.0,475.8 1112.0,475.8 1113.0,475.8 1114.0,475.8 1115.0,475.8 1116.0,475.8 1117.0,475.8 1118.0,475.8 1119.0,475.8 1120.0,475.8 1121.0,475.8 1122.0,475.8 1123.0,475.8 1124.0,475.9 1125.0,475.9 1126.0,475.9 1127.0,475.9 1128.0,475.9 1129.0,475.9 1130.0,475.9 1131.0,475.9 1132.0,475.9 1133.0,475.9 1134.0,475.9 1135.0,475.9 1136.0,475.9 1137.0,475.9 1138.0,475.9 1139.0,475.9 1140.0,475.9 1141.0,475.9 1142.0,475.9 1143.0,475.9 1144.0,475.9 1145.0,475.9 1146.0,475.9 1147.0,475.9 1148.0,475.9 1149.0,475.9 1150.0,475.9 1151.0,476.0 1152.0,476.0 1153.0,476.0 1154.0,476.0 1155.0,476.0 1156.0,476.0 1157.0,476.0 1158.0,476.0 1159.0,476.0 1160.0,476.0 1161.0,476.0 1162.0,476.0 1163.0,476.0 1164.0,476.0 1165.0,476.0 1166.0,476.0 1167.0,476.0 1168.0,476.0 1169.0,476.0 1170.0,476.0 1171.0,476.0 1172.0,476.0 1173.0,476.0 1174.0,476.0 1175.0,476.0 1176.0,476.0 1177.0,476.0 1178.0,476.1 1179.0,476.1 1180.0,476.1 1181.0,476.1 1182.0,476.1 1183.0,476.1 1184.0,476.1 1185.0,476.1 1186.0,476.1 1187.0,476.1 1188.0,476.1 1189.0,476.1 1190.0,476.1 1191.0,476.1 1192.0,476.1 1193.0,476.1 1194.0,476.1 1195.0,476.1 1196.0,476.1 1197.0,476.1 1198.0,476.1 1199.0,476.1 1200.0,476.1 1201.0,476.1 1202.0,476.1 1203.0,476.1 1204.0,476.1 1205.0,476.2 1206.0,476.2 1207.0,476.2 1208.0,476.2 1209.0,476.2 1210.0,476.2 1211.0,476.2 1212.0,476.2 1213.0,476.2 1214.0,476.2 1215.0,476.2 1216.0,476.2 1217.0,476.2 1218.0,476.2 1219.0,476.2 1220.0,476.2 1221.0,476.2 1222.0,476.2 1223.0,476.2 1224.0,476.2 1225.0,476.2 1226.0,476.2 1227.0,476.2 1228.0,476.2 1229.0,476.2 1230.0,476.2 1231.0,476.2 1232.0,476.3 1233.0,476.3 1234.0,476.3 1235.0,476.3 1236.0,476.3 1237.0,476.3 1238.0,476.3 1239.0,476.3 1240.0,476.3 1241.0,476.3 1242.0,476.3 1243.0,476.3 1244.0,476.3 1245.0,476.3" fill="none" stroke="#ff00ff" stroke-width="4.8" stroke-linejoin="round" stroke-linecap="butt"/>
<rect x="679.00" y="53.40" width="566.80" height="438.50" fill="none" stroke="#000" stroke-width="3.9"/>
<line x1="679.00" y1="491.90" x2="679.00" y2="502.00" stroke="#000" stroke-width="3.3" stroke-linecap="butt"/>
<line x1="766.30" y1="491.90" x2="766.30" y2="502.00" stroke="#000" stroke-width="3.3" stroke-linecap="butt"/>
<line x1="853.60" y1="491.90" x2="853.60" y2="502.00" stroke="#000" stroke-width="3.3" stroke-linecap="butt"/>
<line x1="940.90" y1="491.90" x2="940.90" y2="502.00" stroke="#000" stroke-width="3.3" stroke-linecap="butt"/>
<line x1="1028.20" y1="491.90" x2="1028.20" y2="502.00" stroke="#000" stroke-width="3.3" stroke-linecap="butt"/>
<line x1="1115.50" y1="491.90" x2="1115.50" y2="502.00" stroke="#000" stroke-width="3.3" stroke-linecap="butt"/>
<line x1="1202.80" y1="491.90" x2="1202.80" y2="502.00" stroke="#000" stroke-width="3.3" stroke-linecap="butt"/>
<line x1="722.65" y1="491.90" x2="722.65" y2="498.60" stroke="#000" stroke-width="3.3" stroke-linecap="butt"/>
<line x1="809.95" y1="491.90" x2="809.95" y2="498.60" stroke="#000" stroke-width="3.3" stroke-linecap="butt"/>
<line x1="897.25" y1="491.90" x2="897.25" y2="498.60" stroke="#000" stroke-width="3.3" stroke-linecap="butt"/>
<line x1="984.55" y1="491.90" x2="984.55" y2="498.60" stroke="#000" stroke-width="3.3" stroke-linecap="butt"/>
<line x1="1071.85" y1="491.90" x2="1071.85" y2="498.60" stroke="#000" stroke-width="3.3" stroke-linecap="butt"/>
<line x1="1159.15" y1="491.90" x2="1159.15" y2="498.60" stroke="#000" stroke-width="3.3" stroke-linecap="butt"/>
<line x1="1246.45" y1="491.90" x2="1246.45" y2="498.60" stroke="#000" stroke-width="3.3" stroke-linecap="butt"/>
<text transform="translate(658.92 523.92) scale(1.0000 1)" font-size="22.75" font-family="Liberation Sans, sans-serif" fill="#050505" stroke="#050505" stroke-width="1.1" stroke-linejoin="round">292</text>
<text transform="translate(746.22 523.92) scale(1.0000 1)" font-size="22.75" font-family="Liberation Sans, sans-serif" fill="#050505" stroke="#050505" stroke-width="1.1" stroke-linejoin="round">290</text>
<text transform="translate(833.52 523.92) scale(1.0000 1)" font-size="22.75" font-family="Liberation Sans, sans-serif" fill="#050505" stroke="#050505" stroke-width="1.1" stroke-linejoin="round">288</text>
<text transform="translate(920.82 523.92) scale(1.0000 1)" font-size="22.75" font-family="Liberation Sans, sans-serif" fill="#050505" stroke="#050505" stroke-width="1.1" stroke-linejoin="round">286</text>
<text transform="translate(1008.12 523.92) scale(1.0000 1)" font-size="22.75" font-family="Liberation Sans, sans-serif" fill="#050505" stroke="#050505" stroke-width="1.1" stroke-linejoin="round">284</text>
<text transform="translate(1095.42 523.92) scale(1.0000 1)" font-size="22.75" font-family="Liberation Sans, sans-serif" fill="#050505" stroke="#050505" stroke-width="1.1" stroke-linejoin="round">282</text>
<text transform="translate(1182.72 523.92) scale(1.0000 1)" font-size="22.75" font-family="Liberation Sans, sans-serif" fill="#050505" stroke="#050505" stroke-width="1.1" stroke-linejoin="round">280</text>
<text transform="translate(838.90 548.40) scale(1.0400 1)" font-size="24.06" letter-spacing="1.151" font-family="Liberation Sans, sans-serif" fill="#050505" stroke="#050505" stroke-width="1.2" stroke-linejoin="round">Binding energy (eV<tspan dx="2.50">)</tspan></text>
<text transform="translate(667.95 359.36) rotate(-90) scale(1.1267 1)" font-size="24.78" font-family="Liberation Sans, sans-serif" fill="#050505" stroke="#050505" stroke-width="1.3" stroke-linejoin="round">Intensity (a.u.)</text>
<text transform="translate(1167.62 102.89) scale(0.9858 1)" font-size="54.33" font-family="Liberation Sans, sans-serif" font-weight="bold" fill="#050505" stroke="#fff" stroke-width="0.3" stroke-linejoin="round">(b)</text>
<text transform="translate(694.31 96.08) scale(1.0535 1)" font-size="32.04" font-family="Liberation Sans, sans-serif" fill="#050505" stroke="#050505" stroke-width="1.4" stroke-linejoin="round">C 1s</text>
<text transform="translate(879.81 134.19) scale(1.0642 1)" font-size="20.59" font-family="Liberation Serif, serif" fill="#1c1c1c" stroke="#050505" stroke-width="0.7" stroke-linejoin="round">284.50</text>
<line x1="951.00" y1="122.40" x2="980.45" y2="109.59" stroke="#050505" stroke-width="2.3" stroke-linecap="round"/>
<polygon points="991.00,105.00 980.10,113.78 977.14,106.99" fill="#050505"/>
<text transform="translate(871.81 316.19) scale(1.0723 1)" font-size="20.59" font-family="Liberation Serif, serif" fill="#1c1c1c" stroke="#050505" stroke-width="0.7" stroke-linejoin="round">285.74</text>
<line x1="909.00" y1="327.00" x2="932.26" y2="346.92" stroke="#050505" stroke-width="2.3" stroke-linecap="round"/>
<polygon points="941.00,354.40 928.34,348.43 933.15,342.81" fill="#050505"/>
<text transform="translate(797.82 363.21) scale(1.1424 1)" font-size="19.11" font-family="Liberation Serif, serif" fill="#1c1c1c" stroke="#050505" stroke-width="0.7" stroke-linejoin="round">288.17</text>
<line x1="823.00" y1="373.00" x2="832.25" y2="389.04" stroke="#050505" stroke-width="2.3" stroke-linecap="round"/>
<polygon points="838.00,399.00 828.05,389.16 834.46,385.46" fill="#050505"/>
<text transform="translate(1064.81 251.21) scale(1.1531 1)" font-size="19.11" font-family="Liberation Serif, serif" fill="#1c1c1c" stroke="#050505" stroke-width="0.7" stroke-linejoin="round">283.62</text>
<line x1="1089.00" y1="259.00" x2="1060.24" y2="286.98" stroke="#050505" stroke-width="2.3" stroke-linecap="round"/>
<polygon points="1052.00,295.00 1059.10,282.93 1064.26,288.24" fill="#050505"/>
<text transform="translate(1125.80 370.21) scale(1.1663 1)" font-size="19.11" font-family="Liberation Serif, serif" fill="#1c1c1c" stroke="#050505" stroke-width="0.7" stroke-linejoin="round">282.70</text>
<line x1="1121.00" y1="373.00" x2="1104.88" y2="384.81" stroke="#050505" stroke-width="2.3" stroke-linecap="round"/>
<polygon points="1095.60,391.60 1104.31,380.64 1108.68,386.61" fill="#050505"/>
<polyline points="1340.0,478.5 1341.0,478.5 1342.0,478.5 1343.0,478.5 1344.0,478.5 1345.0,478.5 1346.0,478.5 1347.0,478.5 1348.0,478.4 1349.0,478.4 1350.0,478.4 1351.0,478.4 1352.0,478.4 1353.0,478.4 1354.0,478.4 1355.0,478.4 1356.0,478.4 1357.0,478.4 1358.0,478.4 1359.0,478.4 1360.0,478.4 1361.0,478.4 1362.0,478.3 1363.0,478.3 1364.0,478.3 1365.0,478.3 1366.0,478.3 1367.0,478.3 1368.0,478.3 1369.0,478.3 1370.0,478.3 1371.0,478.3 1372.0,478.3 1373.0,478.3 1374.0,478.3 1375.0,478.2 1376.0,478.2 1377.0,478.2 1378.0,478.2 1379.0,478.2 1380.0,478.2 1381.0,478.2 1382.0,478.2 1383.0,478.2 1384.0,478.2 1385.0,478.1 1386.0,478.1 1387.0,478.1 1388.0,478.1 1389.0,478.1 1390.0,478.1 1391.0,478.1 1392.0,478.0 1393.0,478.0 1394.0,478.0 1395.0,478.0 1396.0,478.0 1397.0,478.0 1398.0,478.0 1399.0,477.9 1400.0,477.9 1401.0,477.9 1402.0,477.9 1403.0,477.9 1404.0,477.8 1405.0,477.8 1406.0,477.8 1407.0,477.8 1408.0,477.7 1409.0,477.7 1410.0,477.7 1411.0,477.7 1412.0,477.6 1413.0,477.6 1414.0,477.6 1415.0,477.5 1416.0,477.5 1417.0,477.4 1418.0,477.4 1419.0,477.4 1420.0,477.3 1421.0,477.3 1422.0,477.2 1423.0,477.2 1424.0,477.1 1425.0,477.1 1426.0,477.0 1427.0,477.0 1428.0,476.9 1429.0,476.8 1430.0,476.8 1431.0,476.7 1432.0,476.6 1433.0,476.6 1434.0,476.5 1435.0,476.4 1436.0,476.3 1437.0,476.3 1438.0,476.2 1439.0,476.1 1440.0,476.0 1441.0,475.9 1442.0,475.8 1443.0,475.7 1444.0,475.5 1445.0,475.4 1446.0,475.3 1447.0,475.2 1448.0,475.0 1449.0,474.9 1450.0,474.8 1451.0,474.6 1452.0,474.5 1453.0,474.3 1454.0,474.1 1455.0,474.0 1456.0,473.8 1457.0,473.6 1458.0,473.4 1459.0,473.2 1460.0,473.0 1461.0,472.8 1462.0,472.6 1463.0,472.4 1464.0,472.1 1465.0,471.9 1466.0,471.6 1467.0,471.4 1468.0,471.1 1469.0,470.9 1470.0,470.6 1471.0,470.3 1472.0,470.0 1473.0,469.7 1474.0,469.4 1475.0,469.0 1476.0,468.7 1477.0,468.3 1478.0,468.0 1479.0,467.6 1480.0,467.2 1481.0,466.8 1482.0,466.5 1483.0,466.0 1484.0,465.6 1485.0,465.2 1486.0,464.7 1487.0,464.3 1488.0,463.8 1489.0,463.3 1490.0,462.9 1491.0,462.4 1492.0,461.8 1493.0,461.3 1494.0,460.8 1495.0,460.2 1496.0,459.7 1497.0,459.1 1498.0,458.5 1499.0,457.9 1500.0,457.3 1501.0,456.7 1502.0,456.0 1503.0,455.4 1504.0,454.7 1505.0,454.1 1506.0,453.4 1507.0,452.7 1508.0,452.0 1509.0,451.3 1510.0,450.5 1511.0,449.8 1512.0,449.0 1513.0,448.3 1514.0,447.5 1515.0,446.7 1516.0,445.9 1517.0,445.1 1518.0,444.3 1519.0,443.4 1520.0,442.6 1521.0,441.8 1522.0,440.9 1523.0,440.0 1524.0,439.1 1525.0,438.3 1526.0,437.4 1527.0,436.5 1528.0,435.5 1529.0,434.6 1530.0,433.7 1531.0,432.8 1532.0,431.8 1533.0,430.9 1534.0,430.0 1535.0,429.0 1536.0,428.1 1537.0,427.1 1538.0,426.1 1539.0,425.2 1540.0,424.2 1541.0,423.2 1542.0,422.3 1543.0,421.3 1544.0,420.3 1545.0,419.4 1546.0,418.4 1547.0,417.4 1548.0,416.5 1549.0,415.5 1550.0,414.6 1551.0,413.6 1552.0,412.7 1553.0,411.8 1554.0,410.8 1555.0,409.9 1556.0,409.0 1557.0,408.1 1558.0,407.2 1559.0,406.3 1560.0,405.4 1561.0,404.6 1562.0,403.7 1563.0,402.9 1564.0,402.1 1565.0,401.2 1566.0,400.4 1567.0,399.7 1568.0,398.9 1569.0,398.1 1570.0,397.4 1571.0,396.7 1572.0,396.0 1573.0,395.3 1574.0,394.7 1575.0,394.0 1576.0,393.4 1577.0,392.8 1578.0,392.2 1579.0,391.7 1580.0,391.2 1581.0,390.6 1582.0,390.2 1583.0,389.7 1584.0,389.3 1585.0,388.9 1586.0,388.5 1587.0,388.1 1588.0,387.8 1589.0,387.5 1590.0,387.2 1591.0,386.9 1592.0,386.7 1593.0,386.5 1594.0,386.3 1595.0,386.1 1596.0,386.0 1597.0,385.9 1598.0,385.9 1599.0,385.8 1600.0,385.8 1601.0,385.8 1602.0,385.9 1603.0,385.9 1604.0,386.0 1605.0,386.1 1606.0,386.3 1607.0,386.5 1608.0,386.7 1609.0,386.9 1610.0,387.2 1611.0,387.5 1612.0,387.8 1613.0,388.1 1614.0,388.5 1615.0,388.8 1616.0,389.3 1617.0,389.7 1618.0,390.2 1619.0,390.6 1620.0,391.1 1621.0,391.7 1622.0,392.2 1623.0,392.8 1624.0,393.4 1625.0,394.0 1626.0,394.6 1627.0,395.3 1628.0,396.0 1629.0,396.7 1630.0,397.4 1631.0,398.1 1632.0,398.8 1633.0,399.6 1634.0,400.4 1635.0,401.2 1636.0,402.0 1637.0,402.8 1638.0,403.6 1639.0,404.5 1640.0,405.3 1641.0,406.2 1642.0,407.1 1643.0,408.0 1644.0,408.9 1645.0,409.8 1646.0,410.7 1647.0,411.6 1648.0,412.5 1649.0,413.5 1650.0,414.4 1651.0,415.3 1652.0,416.3 1653.0,417.2 1654.0,418.2 1655.0,419.1 1656.0,420.1 1657.0,421.0 1658.0,422.0 1659.0,422.9 1660.0,423.9 1661.0,424.8 1662.0,425.8 1663.0,426.7 1664.0,427.7 1665.0,428.6 1666.0,429.6 1667.0,430.5 1668.0,431.4 1669.0,432.3 1670.0,433.3 1671.0,434.2 1672.0,435.1 1673.0,436.0 1674.0,436.9 1675.0,437.7 1676.0,438.6 1677.0,439.5 1678.0,440.3 1679.0,441.2 1680.0,442.0 1681.0,442.8 1682.0,443.6 1683.0,444.4 1684.0,445.2 1685.0,446.0 1686.0,446.8 1687.0,447.5 1688.0,448.3 1689.0,449.0 1690.0,449.8 1691.0,450.5 1692.0,451.2 1693.0,451.9 1694.0,452.5 1695.0,453.2 1696.0,453.9 1697.0,454.5 1698.0,455.1 1699.0,455.7 1700.0,456.4 1701.0,456.9 1702.0,457.5 1703.0,458.1 1704.0,458.6 1705.0,459.2 1706.0,459.7 1707.0,460.2 1708.0,460.8 1709.0,461.2 1710.0,461.7 1711.0,462.2 1712.0,462.7 1713.0,463.1 1714.0,463.5 1715.0,464.0 1716.0,464.4 1717.0,464.8 1718.0,465.2 1719.0,465.6 1720.0,465.9 1721.0,466.3 1722.0,466.6 1723.0,467.0 1724.0,467.3 1725.0,467.6 1726.0,468.0 1727.0,468.3 1728.0,468.5 1729.0,468.8 1730.0,469.1 1731.0,469.4 1732.0,469.6 1733.0,469.9 1734.0,470.1 1735.0,470.4 1736.0,470.6 1737.0,470.8 1738.0,471.0 1739.0,471.2 1740.0,471.4 1741.0,471.6 1742.0,471.8 1743.0,471.9 1744.0,472.1 1745.0,472.3 1746.0,472.4 1747.0,472.6 1748.0,472.7 1749.0,472.9 1750.0,473.0 1751.0,473.1 1752.0,473.2 1753.0,473.4 1754.0,473.5 1755.0,473.6 1756.0,473.7 1757.0,473.8 1758.0,473.9 1759.0,474.0 1760.0,474.1 1761.0,474.1 1762.0,474.2 1763.0,474.3 1764.0,474.4 1765.0,474.4 1766.0,474.5 1767.0,474.6 1768.0,474.6 1769.0,474.7 1770.0,474.7 1771.0,474.8 1772.0,474.8 1773.0,474.9 1774.0,474.9 1775.0,475.0 1776.0,475.0 1777.0,475.0 1778.0,475.1 1779.0,475.1 1780.0,475.1 1781.0,475.2 1782.0,475.2 1783.0,475.2 1784.0,475.2 1785.0,475.3 1786.0,475.3 1787.0,475.3 1788.0,475.3 1789.0,475.4 1790.0,475.4 1791.0,475.4 1792.0,475.4 1793.0,475.4 1794.0,475.4 1795.0,475.4 1796.0,475.4 1797.0,475.5 1798.0,475.5 1799.0,475.5 1800.0,475.5 1801.0,475.5 1802.0,475.5 1803.0,475.5 1804.0,475.5 1805.0,475.5 1806.0,475.5 1807.0,475.5 1808.0,475.5 1809.0,475.5 1810.0,475.5 1811.0,475.5 1812.0,475.5 1813.0,475.5 1814.0,475.5 1815.0,475.5 1816.0,475.5 1817.0,475.5 1818.0,475.5 1819.0,475.5 1820.0,475.5 1821.0,475.5 1822.0,475.5 1823.0,475.5 1824.0,475.5 1825.0,475.5 1826.0,475.5 1827.0,475.5 1828.0,475.5 1829.0,475.5 1830.0,475.5 1831.0,475.5" fill="none" stroke="#ff0000" stroke-width="3.6" stroke-linejoin="round" stroke-linecap="butt"/>
<polyline points="1285.0,478.0 1286.0,478.0 1287.0,478.0 1288.0,478.0 1289.0,478.0 1290.0,478.0 1291.0,478.0 1292.0,478.0 1293.0,478.0 1294.0,478.0 1295.0,478.0 1296.0,478.0 1297.0,478.0 1298.0,478.0 1299.0,478.0 1300.0,478.0 1301.0,478.0 1302.0,478.0 1303.0,478.0 1304.0,478.0 1305.0,478.0 1306.0,478.0 1307.0,478.0 1308.0,478.0 1309.0,478.0 1310.0,478.0 1311.0,478.0 1312.0,478.0 1313.0,478.0 1314.0,478.0 1315.0,478.0 1316.0,478.0 1317.0,478.0 1318.0,478.0 1319.0,478.0 1320.0,478.0 1321.0,478.0 1322.0,478.0 1323.0,478.0 1324.0,478.0 1325.0,478.0 1326.0,478.0 1327.0,478.0 1328.0,478.0 1329.0,478.0 1330.0,478.0 1331.0,478.0 1332.0,478.0 1333.0,478.0 1334.0,478.0 1335.0,478.0 1336.0,478.0 1337.0,478.0 1338.0,478.0 1339.0,478.0 1340.0,478.0 1341.0,478.0 1342.0,478.0 1343.0,478.0 1344.0,478.0 1345.0,478.0 1346.0,477.9 1347.0,477.9 1348.0,477.9 1349.0,477.9 1350.0,477.9 1351.0,477.9 1352.0,477.9 1353.0,477.9 1354.0,477.9 1355.0,477.9 1356.0,477.9 1357.0,477.9 1358.0,477.8 1359.0,477.8 1360.0,477.8 1361.0,477.8 1362.0,477.8 1363.0,477.7 1364.0,477.7 1365.0,477.7 1366.0,477.7 1367.0,477.6 1368.0,477.6 1369.0,477.6 1370.0,477.5 1371.0,477.5 1372.0,477.4 1373.0,477.4 1374.0,477.3 1375.0,477.3 1376.0,477.2 1377.0,477.2 1378.0,477.1 1379.0,477.0 1380.0,476.9 1381.0,476.8 1382.0,476.8 1383.0,476.7 1384.0,476.5 1385.0,476.4 1386.0,476.3 1387.0,476.2 1388.0,476.0 1389.0,475.9 1390.0,475.7 1391.0,475.5 1392.0,475.4 1393.0,475.2 1394.0,474.9 1395.0,474.7 1396.0,474.5 1397.0,474.2 1398.0,473.9 1399.0,473.6 1400.0,473.3 1401.0,473.0 1402.0,472.6 1403.0,472.3 1404.0,471.9 1405.0,471.5 1406.0,471.0 1407.0,470.5 1408.0,470.0 1409.0,469.5 1410.0,469.0 1411.0,468.4 1412.0,467.8 1413.0,467.1 1414.0,466.4 1415.0,465.7 1416.0,464.9 1417.0,464.1 1418.0,463.2 1419.0,462.3 1420.0,461.4 1421.0,460.4 1422.0,459.4 1423.0,458.3 1424.0,457.1 1425.0,456.0 1426.0,454.7 1427.0,453.4 1428.0,452.0 1429.0,450.6 1430.0,449.1 1431.0,447.5 1432.0,445.9 1433.0,444.2 1434.0,442.4 1435.0,440.6 1436.0,438.7 1437.0,436.7 1438.0,434.6 1439.0,432.5 1440.0,430.2 1441.0,427.9 1442.0,425.5 1443.0,423.1 1444.0,420.5 1445.0,417.8 1446.0,415.1 1447.0,412.2 1448.0,409.3 1449.0,406.3 1450.0,403.2 1451.0,400.0 1452.0,396.7 1453.0,393.3 1454.0,389.8 1455.0,386.2 1456.0,382.5 1457.0,378.7 1458.0,374.8 1459.0,370.8 1460.0,366.8 1461.0,362.6 1462.0,358.4 1463.0,354.0 1464.0,349.6 1465.0,345.1 1466.0,340.4 1467.0,335.7 1468.0,331.0 1469.0,326.1 1470.0,321.2 1471.0,316.2 1472.0,311.1 1473.0,305.9 1474.0,300.7 1475.0,295.4 1476.0,290.1 1477.0,284.7 1478.0,279.3 1479.0,273.8 1480.0,268.3 1481.0,262.7 1482.0,257.1 1483.0,251.5 1484.0,245.9 1485.0,240.2 1486.0,234.6 1487.0,228.9 1488.0,223.3 1489.0,217.6 1490.0,212.0 1491.0,206.4 1492.0,200.8 1493.0,195.2 1494.0,189.7 1495.0,184.3 1496.0,178.9 1497.0,173.5 1498.0,168.2 1499.0,163.0 1500.0,157.9 1501.0,152.9 1502.0,148.0 1503.0,143.1 1504.0,138.4 1505.0,133.8 1506.0,129.3 1507.0,125.0 1508.0,120.7 1509.0,116.7 1510.0,112.7 1511.0,108.9 1512.0,105.3 1513.0,101.8 1514.0,98.6 1515.0,95.4 1516.0,92.5 1517.0,89.7 1518.0,87.2 1519.0,84.8 1520.0,82.6 1521.0,80.6 1522.0,78.8 1523.0,77.2 1524.0,75.8 1525.0,74.7 1526.0,73.7 1527.0,73.0 1528.0,72.4 1529.0,72.1 1530.0,72.0 1531.0,72.1 1532.0,72.4 1533.0,73.0 1534.0,73.7 1535.0,74.7 1536.0,75.8 1537.0,77.2 1538.0,78.8 1539.0,80.6 1540.0,82.6 1541.0,84.8 1542.0,87.2 1543.0,89.7 1544.0,92.5 1545.0,95.4 1546.0,98.6 1547.0,101.8 1548.0,105.3 1549.0,108.9 1550.0,112.7 1551.0,116.7 1552.0,120.7 1553.0,125.0 1554.0,129.3 1555.0,133.8 1556.0,138.4 1557.0,143.1 1558.0,148.0 1559.0,152.9 1560.0,157.9 1561.0,163.0 1562.0,168.2 1563.0,173.5 1564.0,178.9 1565.0,184.3 1566.0,189.7 1567.0,195.2 1568.0,200.8 1569.0,206.4 1570.0,212.0 1571.0,217.6 1572.0,223.3 1573.0,228.9 1574.0,234.6 1575.0,240.2 1576.0,245.9 1577.0,251.5 1578.0,257.1 1579.0,262.7 1580.0,268.3 1581.0,273.8 1582.0,279.3 1583.0,284.7 1584.0,290.1 1585.0,295.4 1586.0,300.7 1587.0,305.9 1588.0,311.1 1589.0,316.2 1590.0,321.2 1591.0,326.1 1592.0,331.0 1593.0,335.7 1594.0,340.4 1595.0,345.1 1596.0,349.6 1597.0,354.0 1598.0,358.4 1599.0,362.6 1600.0,366.8 1601.0,370.8 1602.0,374.8 1603.0,378.7 1604.0,382.5 1605.0,386.2 1606.0,389.8 1607.0,393.3 1608.0,396.7 1609.0,400.0 1610.0,403.2 1611.0,406.3 1612.0,409.3 1613.0,412.2 1614.0,415.1 1615.0,417.8 1616.0,420.5 1617.0,423.1 1618.0,425.5 1619.0,427.9 1620.0,430.2 1621.0,432.5 1622.0,434.6 1623.0,436.7 1624.0,438.7 1625.0,440.6 1626.0,442.4 1627.0,444.2 1628.0,445.9 1629.0,447.5 1630.0,449.1 1631.0,450.6 1632.0,452.0 1633.0,453.4 1634.0,454.7 1635.0,456.0 1636.0,457.1 1637.0,458.3 1638.0,459.4 1639.0,460.4 1640.0,461.4 1641.0,462.3 1642.0,463.2 1643.0,464.1 1644.0,464.9 1645.0,465.7 1646.0,466.4 1647.0,467.1 1648.0,467.8 1649.0,468.4 1650.0,469.0 1651.0,469.5 1652.0,470.0 1653.0,470.5 1654.0,471.0 1655.0,471.5 1656.0,471.9 1657.0,472.3 1658.0,472.6 1659.0,473.0 1660.0,473.3 1661.0,473.6 1662.0,473.9 1663.0,474.2 1664.0,474.5 1665.0,474.7 1666.0,474.9 1667.0,475.2 1668.0,475.4 1669.0,475.5 1670.0,475.7 1671.0,475.9 1672.0,476.0 1673.0,476.2 1674.0,476.3 1675.0,476.4 1676.0,476.5 1677.0,476.7 1678.0,476.8 1679.0,476.8 1680.0,476.9 1681.0,477.0 1682.0,477.1 1683.0,477.2 1684.0,477.2 1685.0,477.3 1686.0,477.3 1687.0,477.4 1688.0,477.4 1689.0,477.5 1690.0,477.5 1691.0,477.6 1692.0,477.6 1693.0,477.6 1694.0,477.7 1695.0,477.7 1696.0,477.7 1697.0,477.7 1698.0,477.8 1699.0,477.8 1700.0,477.8 1701.0,477.8 1702.0,477.8 1703.0,477.9 1704.0,477.9 1705.0,477.9 1706.0,477.9 1707.0,477.9 1708.0,477.9 1709.0,477.9 1710.0,477.9 1711.0,477.9 1712.0,477.9 1713.0,477.9 1714.0,477.9 1715.0,478.0 1716.0,478.0 1717.0,478.0 1718.0,478.0 1719.0,478.0 1720.0,478.0 1721.0,478.0" fill="none" stroke="#00ff00" stroke-width="4.3" stroke-linejoin="round" stroke-linecap="butt"/>
<polyline points="1285.0,476.3 1286.0,476.3 1287.0,476.3 1288.0,476.2 1289.0,476.2 1290.0,476.2 1291.0,476.2 1292.0,476.2 1293.0,476.2 1294.0,476.2 1295.0,476.2 1296.0,476.2 1297.0,476.2 1298.0,476.2 1299.0,476.2 1300.0,476.2 1301.0,476.1 1302.0,476.1 1303.0,476.1 1304.0,476.1 1305.0,476.1 1306.0,476.1 1307.0,476.0 1308.0,476.0 1309.0,476.0 1310.0,476.0 1311.0,475.9 1312.0,475.9 1313.0,475.9 1314.0,475.8 1315.0,475.8 1316.0,475.8 1317.0,475.7 1318.0,475.7 1319.0,475.6 1320.0,475.6 1321.0,475.5 1322.0,475.4 1323.0,475.4 1324.0,475.3 1325.0,475.2 1326.0,475.1 1327.0,475.1 1328.0,475.0 1329.0,474.9 1330.0,474.8 1331.0,474.7 1332.0,474.5 1333.0,474.4 1334.0,474.3 1335.0,474.1 1336.0,474.0 1337.0,473.8 1338.0,473.6 1339.0,473.5 1340.0,473.3 1341.0,473.1 1342.0,472.9 1343.0,472.6 1344.0,472.4 1345.0,472.1 1346.0,471.9 1347.0,471.6 1348.0,471.3 1349.0,471.0 1350.0,470.7 1351.0,470.3 1352.0,469.9 1353.0,469.6 1354.0,469.2 1355.0,468.7 1356.0,468.3 1357.0,467.8 1358.0,467.4 1359.0,466.9 1360.0,466.3 1361.0,465.8 1362.0,465.2 1363.0,464.6 1364.0,464.0 1365.0,463.3 1366.0,462.6 1367.0,461.9 1368.0,461.2 1369.0,460.4 1370.0,459.6 1371.0,458.8 1372.0,457.9 1373.0,457.0 1374.0,456.1 1375.0,455.1 1376.0,454.1 1377.0,453.1 1378.0,452.0 1379.0,450.9 1380.0,449.7 1381.0,448.5 1382.0,447.3 1383.0,446.0 1384.0,444.7 1385.0,443.4 1386.0,442.0 1387.0,440.6 1388.0,439.1 1389.0,437.6 1390.0,436.1 1391.0,434.5 1392.0,432.9 1393.0,431.2 1394.0,429.5 1395.0,427.7 1396.0,426.0 1397.0,424.1 1398.0,422.3 1399.0,420.4 1400.0,418.4 1401.0,416.4 1402.0,414.4 1403.0,412.4 1404.0,410.3 1405.0,408.2 1406.0,406.0 1407.0,403.8 1408.0,401.6 1409.0,399.4 1410.0,397.1 1411.0,394.8 1412.0,392.5 1413.0,390.1 1414.0,387.8 1415.0,385.4 1416.0,383.0 1417.0,380.6 1418.0,378.1 1419.0,375.7 1420.0,373.2 1421.0,370.8 1422.0,368.3 1423.0,365.8 1424.0,363.3 1425.0,360.9 1426.0,358.4 1427.0,356.0 1428.0,353.5 1429.0,351.1 1430.0,348.7 1431.0,346.3 1432.0,343.9 1433.0,341.5 1434.0,339.2 1435.0,336.9 1436.0,334.7 1437.0,332.4 1438.0,330.2 1439.0,328.1 1440.0,326.0 1441.0,323.9 1442.0,321.9 1443.0,319.9 1444.0,318.0 1445.0,316.2 1446.0,314.4 1447.0,312.7 1448.0,311.0 1449.0,309.4 1450.0,307.9 1451.0,306.4 1452.0,305.0 1453.0,303.7 1454.0,302.5 1455.0,301.3 1456.0,300.2 1457.0,299.2 1458.0,298.3 1459.0,297.5 1460.0,296.7 1461.0,296.1 1462.0,295.5 1463.0,295.0 1464.0,294.7 1465.0,294.4 1466.0,294.1 1467.0,294.0 1468.0,294.0 1469.0,294.1 1470.0,294.2 1471.0,294.5 1472.0,294.8 1473.0,295.2 1474.0,295.7 1475.0,296.3 1476.0,297.0 1477.0,297.8 1478.0,298.7 1479.0,299.6 1480.0,300.6 1481.0,301.8 1482.0,302.9 1483.0,304.2 1484.0,305.6 1485.0,307.0 1486.0,308.5 1487.0,310.0 1488.0,311.7 1489.0,313.3 1490.0,315.1 1491.0,316.9 1492.0,318.8 1493.0,320.7 1494.0,322.7 1495.0,324.7 1496.0,326.8 1497.0,329.0 1498.0,331.1 1499.0,333.3 1500.0,335.6 1501.0,337.9 1502.0,340.2 1503.0,342.5 1504.0,344.9 1505.0,347.3 1506.0,349.7 1507.0,352.1 1508.0,354.5 1509.0,357.0 1510.0,359.4 1511.0,361.9 1512.0,364.4 1513.0,366.9 1514.0,369.3 1515.0,371.8 1516.0,374.3 1517.0,376.7 1518.0,379.2 1519.0,381.6 1520.0,384.0 1521.0,386.4 1522.0,388.8 1523.0,391.2 1524.0,393.5 1525.0,395.8 1526.0,398.1 1527.0,400.4 1528.0,402.6 1529.0,404.8 1530.0,407.0 1531.0,409.2 1532.0,411.3 1533.0,413.3 1534.0,415.4 1535.0,417.4 1536.0,419.4 1537.0,421.3 1538.0,423.2 1539.0,425.0 1540.0,426.8 1541.0,428.6 1542.0,430.4 1543.0,432.0 1544.0,433.7 1545.0,435.3 1546.0,436.9 1547.0,438.4 1548.0,439.9 1549.0,441.4 1550.0,442.8 1551.0,444.2 1552.0,445.5 1553.0,446.8 1554.0,448.0 1555.0,449.2 1556.0,450.4 1557.0,451.6 1558.0,452.7 1559.0,453.7 1560.0,454.8 1561.0,455.7 1562.0,456.7 1563.0,457.6 1564.0,458.5 1565.0,459.4 1566.0,460.2 1567.0,461.0 1568.0,461.8 1569.0,462.5 1570.0,463.2 1571.0,463.9 1572.0,464.5 1573.0,465.2 1574.0,465.8 1575.0,466.3 1576.0,466.9 1577.0,467.4 1578.0,467.9 1579.0,468.4 1580.0,468.8 1581.0,469.3 1582.0,469.7 1583.0,470.1 1584.0,470.5 1585.0,470.8 1586.0,471.2 1587.0,471.5 1588.0,471.8 1589.0,472.1 1590.0,472.4 1591.0,472.6 1592.0,472.9 1593.0,473.1 1594.0,473.3 1595.0,473.5 1596.0,473.7 1597.0,473.9 1598.0,474.1 1599.0,474.3 1600.0,474.5 1601.0,474.6 1602.0,474.7 1603.0,474.9 1604.0,475.0 1605.0,475.1 1606.0,475.2 1607.0,475.3 1608.0,475.4 1609.0,475.5 1610.0,475.6 1611.0,475.7 1612.0,475.8 1613.0,475.9 1614.0,475.9 1615.0,476.0 1616.0,476.1 1617.0,476.1 1618.0,476.2 1619.0,476.2 1620.0,476.3 1621.0,476.3 1622.0,476.3 1623.0,476.4 1624.0,476.4 1625.0,476.5 1626.0,476.5 1627.0,476.5 1628.0,476.5 1629.0,476.6 1630.0,476.6 1631.0,476.6 1632.0,476.6 1633.0,476.7 1634.0,476.7 1635.0,476.7 1636.0,476.7 1637.0,476.7 1638.0,476.7 1639.0,476.7 1640.0,476.8 1641.0,476.8 1642.0,476.8 1643.0,476.8 1644.0,476.8 1645.0,476.8 1646.0,476.8 1647.0,476.8 1648.0,476.8 1649.0,476.8 1650.0,476.8 1651.0,476.8 1652.0,476.8 1653.0,476.9 1654.0,476.9 1655.0,476.9 1656.0,476.9 1657.0,476.9 1658.0,476.9 1659.0,476.9 1660.0,476.9 1661.0,476.9 1662.0,476.9 1663.0,476.9 1664.0,476.9 1665.0,476.9 1666.0,476.9 1667.0,476.9 1668.0,476.9 1669.0,476.9 1670.0,476.9 1671.0,476.9 1672.0,476.9 1673.0,476.9 1674.0,476.9 1675.0,476.9 1676.0,476.9 1677.0,476.9 1678.0,476.9 1679.0,476.9 1680.0,476.9 1681.0,476.9 1682.0,476.9 1683.0,476.9 1684.0,476.9 1685.0,476.9 1686.0,476.9 1687.0,476.9 1688.0,476.9 1689.0,476.9 1690.0,476.9 1691.0,476.9 1692.0,476.9 1693.0,476.9 1694.0,477.0 1695.0,477.0 1696.0,477.0 1697.0,477.0 1698.0,477.0 1699.0,477.0 1700.0,477.0 1701.0,477.0 1702.0,477.0 1703.0,477.0 1704.0,477.0 1705.0,477.0 1706.0,477.0 1707.0,477.0 1708.0,477.0 1709.0,477.0 1710.0,477.0 1711.0,477.0 1712.0,477.0 1713.0,477.0 1714.0,477.0 1715.0,477.0 1716.0,477.0 1717.0,477.0 1718.0,477.0 1719.0,477.0 1720.0,477.0 1721.0,477.0 1722.0,477.0 1723.0,477.0 1724.0,477.0 1725.0,477.0 1726.0,477.0 1727.0,477.0 1728.0,477.0 1729.0,477.0 1730.0,477.0 1731.0,477.0 1732.0,477.0 1733.0,477.0 1734.0,477.0 1735.0,477.0 1736.0,477.0 1737.0,477.0 1738.0,477.0 1739.0,477.0 1740.0,477.0 1741.0,477.0 1742.0,477.0 1743.0,477.0 1744.0,477.0 1745.0,477.0 1746.0,477.0 1747.0,477.0 1748.0,477.0 1749.0,477.0 1750.0,477.0 1751.0,477.0 1752.0,477.0 1753.0,477.0 1754.0,477.0 1755.0,477.0 1756.0,477.1 1757.0,477.1 1758.0,477.1 1759.0,477.1 1760.0,477.1 1761.0,477.1 1762.0,477.1 1763.0,477.1 1764.0,477.1 1765.0,477.1 1766.0,477.1 1767.0,477.1 1768.0,477.1 1769.0,477.1 1770.0,477.1 1771.0,477.1 1772.0,477.1 1773.0,477.1 1774.0,477.1 1775.0,477.1 1776.0,477.1 1777.0,477.1 1778.0,477.1 1779.0,477.1 1780.0,477.1 1781.0,477.1 1782.0,477.1 1783.0,477.1 1784.0,477.1 1785.0,477.1 1786.0,477.1 1787.0,477.1 1788.0,477.1 1789.0,477.1 1790.0,477.1 1791.0,477.1 1792.0,477.1 1793.0,477.1 1794.0,477.1 1795.0,477.1 1796.0,477.1 1797.0,477.1 1798.0,477.1 1799.0,477.1 1800.0,477.1 1801.0,477.1 1802.0,477.1 1803.0,477.1 1804.0,477.1 1805.0,477.1 1806.0,477.1 1807.0,477.1 1808.0,477.1 1809.0,477.1 1810.0,477.1 1811.0,477.1 1812.0,477.1 1813.0,477.1 1814.0,477.1 1815.0,477.1 1816.0,477.1 1817.0,477.1 1818.0,477.1 1819.0,477.2 1820.0,477.2 1821.0,477.2 1822.0,477.2 1823.0,477.2 1824.0,477.2 1825.0,477.2 1826.0,477.2 1827.0,477.2 1828.0,477.2 1829.0,477.2 1830.0,477.2 1831.0,477.2 1832.0,477.2 1833.0,477.2 1834.0,477.2 1835.0,477.2 1836.0,477.2 1837.0,477.2 1838.0,477.2 1839.0,477.2 1840.0,477.2 1841.0,477.2 1842.0,477.2 1843.0,477.2 1844.0,477.2 1845.0,477.2 1846.0,477.2 1847.0,477.2 1848.0,477.2 1849.0,477.2 1850.0,477.2" fill="none" stroke="#0000ff" stroke-width="3.9" stroke-linejoin="round" stroke-linecap="butt"/>
<polyline points="1285.0,476.3 1340.0,476.4" fill="none" stroke="#0000ff" stroke-width="4.6" stroke-linejoin="round" stroke-linecap="butt"/>
<polyline points="1640.0,476.9 1850.0,477.2" fill="none" stroke="#0000ff" stroke-width="4.6" stroke-linejoin="round" stroke-linecap="butt"/>
<rect x="1284.10" y="56.20" width="566.20" height="436.90" fill="none" stroke="#000" stroke-width="3.9"/>
<line x1="1327.00" y1="493.10" x2="1327.00" y2="502.80" stroke="#000" stroke-width="3.3" stroke-linecap="butt"/>
<line x1="1414.20" y1="493.10" x2="1414.20" y2="502.80" stroke="#000" stroke-width="3.3" stroke-linecap="butt"/>
<line x1="1501.40" y1="493.10" x2="1501.40" y2="502.80" stroke="#000" stroke-width="3.3" stroke-linecap="butt"/>
<line x1="1588.60" y1="493.10" x2="1588.60" y2="502.80" stroke="#000" stroke-width="3.3" stroke-linecap="butt"/>
<line x1="1675.80" y1="493.10" x2="1675.80" y2="502.80" stroke="#000" stroke-width="3.3" stroke-linecap="butt"/>
<line x1="1763.00" y1="493.10" x2="1763.00" y2="502.80" stroke="#000" stroke-width="3.3" stroke-linecap="butt"/>
<line x1="1850.20" y1="493.10" x2="1850.20" y2="502.80" stroke="#000" stroke-width="3.3" stroke-linecap="butt"/>
<line x1="1283.40" y1="493.10" x2="1283.40" y2="499.60" stroke="#000" stroke-width="3.3" stroke-linecap="butt"/>
<line x1="1370.60" y1="493.10" x2="1370.60" y2="499.60" stroke="#000" stroke-width="3.3" stroke-linecap="butt"/>
<line x1="1457.80" y1="493.10" x2="1457.80" y2="499.60" stroke="#000" stroke-width="3.3" stroke-linecap="butt"/>
<line x1="1545.00" y1="493.10" x2="1545.00" y2="499.60" stroke="#000" stroke-width="3.3" stroke-linecap="butt"/>
<line x1="1632.20" y1="493.10" x2="1632.20" y2="499.60" stroke="#000" stroke-width="3.3" stroke-linecap="butt"/>
<line x1="1719.40" y1="493.10" x2="1719.40" y2="499.60" stroke="#000" stroke-width="3.3" stroke-linecap="butt"/>
<line x1="1806.60" y1="493.10" x2="1806.60" y2="499.60" stroke="#000" stroke-width="3.3" stroke-linecap="butt"/>
<text transform="translate(1306.92 524.72) scale(1.0000 1)" font-size="22.75" font-family="Liberation Sans, sans-serif" fill="#050505" stroke="#050505" stroke-width="1.1" stroke-linejoin="round">536</text>
<text transform="translate(1394.12 524.72) scale(1.0000 1)" font-size="22.75" font-family="Liberation Sans, sans-serif" fill="#050505" stroke="#050505" stroke-width="1.1" stroke-linejoin="round">534</text>
<text transform="translate(1481.32 524.72) scale(1.0000 1)" font-size="22.75" font-family="Liberation Sans, sans-serif" fill="#050505" stroke="#050505" stroke-width="1.1" stroke-linejoin="round">532</text>
<text transform="translate(1568.52 524.72) scale(1.0000 1)" font-size="22.75" font-family="Liberation Sans, sans-serif" fill="#050505" stroke="#050505" stroke-width="1.1" stroke-linejoin="round">530</text>
<text transform="translate(1655.72 524.72) scale(1.0000 1)" font-size="22.75" font-family="Liberation Sans, sans-serif" fill="#050505" stroke="#050505" stroke-width="1.1" stroke-linejoin="round">528</text>
<text transform="translate(1742.92 524.72) scale(1.0000 1)" font-size="22.75" font-family="Liberation Sans, sans-serif" fill="#050505" stroke="#050505" stroke-width="1.1" stroke-linejoin="round">526</text>
<text transform="translate(1830.12 524.72) scale(1.0000 1)" font-size="22.75" font-family="Liberation Sans, sans-serif" fill="#050505" stroke="#050505" stroke-width="1.1" stroke-linejoin="round">524</text>
<text transform="translate(1444.26 549.70) scale(1.0400 1)" font-size="23.33" letter-spacing="1.539" font-family="Liberation Sans, sans-serif" fill="#050505" stroke="#050505" stroke-width="1.2" stroke-linejoin="round">Binding energy (eV<tspan dx="2.50">)</tspan></text>
<text transform="translate(1273.95 359.10) rotate(-90) scale(1.1006 1)" font-size="24.78" font-family="Liberation Sans, sans-serif" fill="#050505" stroke="#050505" stroke-width="1.3" stroke-linejoin="round">Intensity (a.u.)</text>
<text transform="translate(1780.16 101.87) scale(0.9699 1)" font-size="54.44" font-family="Liberation Sans, sans-serif" font-weight="bold" fill="#050505" stroke="#fff" stroke-width="0.3" stroke-linejoin="round">(c)</text>
<text transform="translate(1296.90 92.43) scale(1.0516 1)" font-size="31.76" font-family="Liberation Sans, sans-serif" fill="#050505" stroke="#050505" stroke-width="1.4" stroke-linejoin="round">O 1s</text>
<text transform="translate(1588.86 125.21) scale(1.1650 1)" font-size="19.11" font-family="Liberation Serif, serif" fill="#1c1c1c" stroke="#050505" stroke-width="0.7" stroke-linejoin="round">531.35</text>
<line x1="1585.00" y1="107.00" x2="1558.94" y2="89.43" stroke="#050505" stroke-width="2.3" stroke-linecap="round"/>
<polygon points="1549.40,83.00 1562.66,87.48 1558.53,93.61" fill="#050505"/>
<text transform="translate(1379.46 253.60) scale(1.1376 1)" font-size="19.70" font-family="Liberation Serif, serif" fill="#1c1c1c" stroke="#050505" stroke-width="0.7" stroke-linejoin="round">532.78</text>
<line x1="1421.60" y1="263.00" x2="1450.48" y2="282.55" stroke="#050505" stroke-width="2.3" stroke-linecap="round"/>
<polygon points="1460.00,289.00 1446.75,284.49 1450.90,278.37" fill="#050505"/>
<text transform="translate(1620.91 318.21) scale(1.1255 1)" font-size="19.11" font-family="Liberation Serif, serif" fill="#1c1c1c" stroke="#050505" stroke-width="0.7" stroke-linejoin="round">529.69</text>
<line x1="1637.40" y1="334.00" x2="1619.54" y2="362.28" stroke="#050505" stroke-width="2.3" stroke-linecap="round"/>
<polygon points="1613.40,372.00 1617.48,358.61 1623.74,362.56" fill="#050505"/>
<polyline points="72.0,989.9 73.0,989.9 74.0,989.9 75.0,989.9 76.0,989.9 77.0,989.8 78.0,989.8 79.0,989.8 80.0,989.8 81.0,989.8 82.0,989.8 83.0,989.8 84.0,989.8 85.0,989.7 86.0,989.7 87.0,989.7 88.0,989.7 89.0,989.7 90.0,989.7 91.0,989.7 92.0,989.7 93.0,989.6 94.0,989.6 95.0,989.6 96.0,989.6 97.0,989.6 98.0,989.6 99.0,989.6 100.0,989.5 101.0,989.5 102.0,989.5 103.0,989.5 104.0,989.5 105.0,989.5 106.0,989.4 107.0,989.4 108.0,989.4 109.0,989.4 110.0,989.4 111.0,989.4 112.0,989.3 113.0,989.3 114.0,989.3 115.0,989.3 116.0,989.3 117.0,989.2 118.0,989.2 119.0,989.2 120.0,989.2 121.0,989.2 122.0,989.1 123.0,989.1 124.0,989.1 125.0,989.1 126.0,989.0 127.0,989.0 128.0,989.0 129.0,989.0 130.0,988.9 131.0,988.9 132.0,988.9 133.0,988.8 134.0,988.8 135.0,988.8 136.0,988.7 137.0,988.7 138.0,988.7 139.0,988.6 140.0,988.6 141.0,988.6 142.0,988.5 143.0,988.5 144.0,988.4 145.0,988.4 146.0,988.4 147.0,988.3 148.0,988.3 149.0,988.2 150.0,988.2 151.0,988.1 152.0,988.0 153.0,988.0 154.0,987.9 155.0,987.9 156.0,987.8 157.0,987.7 158.0,987.7 159.0,987.6 160.0,987.5 161.0,987.4 162.0,987.3 163.0,987.3 164.0,987.2 165.0,987.1 166.0,987.0 167.0,986.9 168.0,986.8 169.0,986.6 170.0,986.5 171.0,986.4 172.0,986.3 173.0,986.2 174.0,986.0 175.0,985.9 176.0,985.7 177.0,985.6 178.0,985.4 179.0,985.2 180.0,985.0 181.0,984.9 182.0,984.7 183.0,984.5 184.0,984.3 185.0,984.0 186.0,983.8 187.0,983.6 188.0,983.3 189.0,983.1 190.0,982.8 191.0,982.5 192.0,982.2 193.0,981.9 194.0,981.6 195.0,981.3 196.0,980.9 197.0,980.6 198.0,980.2 199.0,979.8 200.0,979.4 201.0,979.0 202.0,978.5 203.0,978.1 204.0,977.6 205.0,977.1 206.0,976.6 207.0,976.1 208.0,975.5 209.0,975.0 210.0,974.4 211.0,973.8 212.0,973.1 213.0,972.5 214.0,971.8 215.0,971.1 216.0,970.3 217.0,969.6 218.0,968.8 219.0,968.0 220.0,967.1 221.0,966.2 222.0,965.3 223.0,964.4 224.0,963.4 225.0,962.4 226.0,961.4 227.0,960.3 228.0,959.2 229.0,958.1 230.0,956.9 231.0,955.7 232.0,954.5 233.0,953.2 234.0,951.9 235.0,950.5 236.0,949.1 237.0,947.7 238.0,946.2 239.0,944.6 240.0,943.1 241.0,941.5 242.0,939.8 243.0,938.1 244.0,936.3 245.0,934.5 246.0,932.7 247.0,930.8 248.0,928.9 249.0,926.9 250.0,924.8 251.0,922.8 252.0,920.6 253.0,918.4 254.0,916.2 255.0,913.9 256.0,911.6 257.0,909.2 258.0,906.7 259.0,904.2 260.0,901.7 261.0,899.1 262.0,896.4 263.0,893.7 264.0,891.0 265.0,888.2 266.0,885.3 267.0,882.4 268.0,879.4 269.0,876.4 270.0,873.4 271.0,870.3 272.0,867.1 273.0,863.9 274.0,860.6 275.0,857.3 276.0,854.0 277.0,850.6 278.0,847.1 279.0,843.6 280.0,840.1 281.0,836.5 282.0,832.9 283.0,829.2 284.0,825.5 285.0,821.8 286.0,818.0 287.0,814.2 288.0,810.4 289.0,806.5 290.0,802.6 291.0,798.7 292.0,794.7 293.0,790.7 294.0,786.7 295.0,782.7 296.0,778.7 297.0,774.6 298.0,770.5 299.0,766.4 300.0,762.3 301.0,758.2 302.0,754.1 303.0,750.0 304.0,745.9 305.0,741.8 306.0,737.7 307.0,733.6 308.0,729.5 309.0,725.4 310.0,721.3 311.0,717.3 312.0,713.3 313.0,709.3 314.0,705.3 315.0,701.3 316.0,697.4 317.0,693.5 318.0,689.7 319.0,685.9 320.0,682.1 321.0,678.4 322.0,674.8 323.0,671.2 324.0,667.6 325.0,664.1 326.0,660.7 327.0,657.3 328.0,654.0 329.0,650.8 330.0,647.6 331.0,644.5 332.0,641.5 333.0,638.6 334.0,635.8 335.0,633.0 336.0,630.4 337.0,627.8 338.0,625.3 339.0,622.9 340.0,620.7 341.0,618.5 342.0,616.4 343.0,614.4 344.0,612.6 345.0,610.8 346.0,609.2 347.0,607.7 348.0,606.3 349.0,605.0 350.0,603.8 351.0,602.8 352.0,601.9 353.0,601.0 354.0,600.4 355.0,599.8 356.0,599.4 357.0,599.1 358.0,598.9 359.0,598.8 360.0,598.9 361.0,599.1 362.0,599.4 363.0,599.8 364.0,600.4 365.0,601.0 366.0,601.9 367.0,602.8 368.0,603.8 369.0,605.0 370.0,606.3 371.0,607.7 372.0,609.2 373.0,610.8 374.0,612.6 375.0,614.4 376.0,616.4 377.0,618.5 378.0,620.7 379.0,622.9 380.0,625.3 381.0,627.8 382.0,630.4 383.0,633.0 384.0,635.8 385.0,638.6 386.0,641.5 387.0,644.5 388.0,647.6 389.0,650.8 390.0,654.0 391.0,657.3 392.0,660.7 393.0,664.1 394.0,667.6 395.0,671.2 396.0,674.8 397.0,678.4 398.0,682.1 399.0,685.9 400.0,689.7 401.0,693.5 402.0,697.4 403.0,701.3 404.0,705.3 405.0,709.3 406.0,713.3 407.0,717.3 408.0,721.3 409.0,725.4 410.0,729.5 411.0,733.6 412.0,737.7 413.0,741.8 414.0,745.9 415.0,750.0 416.0,754.1 417.0,758.2 418.0,762.3 419.0,766.4 420.0,770.5 421.0,774.6 422.0,778.7 423.0,782.7 424.0,786.7 425.0,790.7 426.0,794.7 427.0,798.7 428.0,802.6 429.0,806.5 430.0,810.4 431.0,814.2 432.0,818.0 433.0,821.8 434.0,825.5 435.0,829.2 436.0,832.9 437.0,836.5 438.0,840.1 439.0,843.6 440.0,847.1 441.0,850.6 442.0,854.0 443.0,857.3 444.0,860.6 445.0,863.9 446.0,867.1 447.0,870.3 448.0,873.4 449.0,876.4 450.0,879.4 451.0,882.4 452.0,885.3 453.0,888.2 454.0,891.0 455.0,893.7 456.0,896.4 457.0,899.1 458.0,901.7 459.0,904.2 460.0,906.7 461.0,909.2 462.0,911.6 463.0,913.9 464.0,916.2 465.0,918.4 466.0,920.6 467.0,922.8 468.0,924.8 469.0,926.9 470.0,928.9 471.0,930.8 472.0,932.7 473.0,934.5 474.0,936.3 475.0,938.1 476.0,939.8 477.0,941.5 478.0,943.1 479.0,944.6 480.0,946.2 481.0,947.7 482.0,949.1 483.0,950.5 484.0,951.9 485.0,953.2 486.0,954.5 487.0,955.7 488.0,956.9 489.0,958.1 490.0,959.2 491.0,960.3 492.0,961.4 493.0,962.4 494.0,963.4 495.0,964.4 496.0,965.3 497.0,966.2 498.0,967.1 499.0,968.0 500.0,968.8 501.0,969.6 502.0,970.3 503.0,971.1 504.0,971.8 505.0,972.5 506.0,973.1 507.0,973.8 508.0,974.4 509.0,975.0 510.0,975.5 511.0,976.1 512.0,976.6 513.0,977.1 514.0,977.6 515.0,978.1 516.0,978.5 517.0,979.0 518.0,979.4 519.0,979.8 520.0,980.2 521.0,980.6 522.0,980.9 523.0,981.3 524.0,981.6 525.0,981.9 526.0,982.2 527.0,982.5 528.0,982.8 529.0,983.1 530.0,983.3 531.0,983.6 532.0,983.8 533.0,984.0 534.0,984.3 535.0,984.5 536.0,984.7 537.0,984.9 538.0,985.0 539.0,985.2 540.0,985.4 541.0,985.6 542.0,985.7 543.0,985.9 544.0,986.0 545.0,986.2 546.0,986.3 547.0,986.4 548.0,986.5 549.0,986.6 550.0,986.8 551.0,986.9 552.0,987.0 553.0,987.1 554.0,987.2 555.0,987.3 556.0,987.3 557.0,987.4 558.0,987.5 559.0,987.6 560.0,987.7 561.0,987.7 562.0,987.8 563.0,987.9 564.0,987.9 565.0,988.0 566.0,988.0 567.0,988.1 568.0,988.2 569.0,988.2 570.0,988.3 571.0,988.3 572.0,988.4 573.0,988.4 574.0,988.4 575.0,988.5 576.0,988.5 577.0,988.6 578.0,988.6 579.0,988.6 580.0,988.7 581.0,988.7 582.0,988.7 583.0,988.8 584.0,988.8 585.0,988.8 586.0,988.9 587.0,988.9 588.0,988.9 589.0,989.0 590.0,989.0 591.0,989.0 592.0,989.0 593.0,989.1 594.0,989.1 595.0,989.1 596.0,989.1 597.0,989.2 598.0,989.2 599.0,989.2 600.0,989.2 601.0,989.2 602.0,989.3 603.0,989.3 604.0,989.3 605.0,989.3 606.0,989.3 607.0,989.4 608.0,989.4 609.0,989.4 610.0,989.4 611.0,989.4 612.0,989.4 613.0,989.5 614.0,989.5 615.0,989.5 616.0,989.5 617.0,989.5 618.0,989.5 619.0,989.6 620.0,989.6 621.0,989.6 622.0,989.6 623.0,989.6 624.0,989.6 625.0,989.6 626.0,989.7 627.0,989.7 628.0,989.7 629.0,989.7 630.0,989.7 631.0,989.7 632.0,989.7 633.0,989.7 634.0,989.8 635.0,989.8 636.0,989.8 637.0,989.8" fill="none" stroke="#00ff00" stroke-width="4.9" stroke-linejoin="round" stroke-linecap="butt"/>
<rect x="71.60" y="565.70" width="565.80" height="442.40" fill="none" stroke="#000" stroke-width="3.9"/>
<line x1="71.00" y1="1008.10" x2="71.00" y2="1016.80" stroke="#000" stroke-width="3.3" stroke-linecap="butt"/>
<line x1="165.34" y1="1008.10" x2="165.34" y2="1016.80" stroke="#000" stroke-width="3.3" stroke-linecap="butt"/>
<line x1="259.68" y1="1008.10" x2="259.68" y2="1016.80" stroke="#000" stroke-width="3.3" stroke-linecap="butt"/>
<line x1="354.02" y1="1008.10" x2="354.02" y2="1016.80" stroke="#000" stroke-width="3.3" stroke-linecap="butt"/>
<line x1="448.36" y1="1008.10" x2="448.36" y2="1016.80" stroke="#000" stroke-width="3.3" stroke-linecap="butt"/>
<line x1="542.70" y1="1008.10" x2="542.70" y2="1016.80" stroke="#000" stroke-width="3.3" stroke-linecap="butt"/>
<line x1="637.04" y1="1008.10" x2="637.04" y2="1016.80" stroke="#000" stroke-width="3.3" stroke-linecap="butt"/>
<line x1="118.17" y1="1008.10" x2="118.17" y2="1013.60" stroke="#000" stroke-width="3.3" stroke-linecap="butt"/>
<line x1="212.51" y1="1008.10" x2="212.51" y2="1013.60" stroke="#000" stroke-width="3.3" stroke-linecap="butt"/>
<line x1="306.85" y1="1008.10" x2="306.85" y2="1013.60" stroke="#000" stroke-width="3.3" stroke-linecap="butt"/>
<line x1="401.19" y1="1008.10" x2="401.19" y2="1013.60" stroke="#000" stroke-width="3.3" stroke-linecap="butt"/>
<line x1="495.53" y1="1008.10" x2="495.53" y2="1013.60" stroke="#000" stroke-width="3.3" stroke-linecap="butt"/>
<line x1="589.87" y1="1008.10" x2="589.87" y2="1013.60" stroke="#000" stroke-width="3.3" stroke-linecap="butt"/>
<text transform="translate(50.69 1039.12) scale(1.0000 1)" font-size="23.03" font-family="Liberation Sans, sans-serif" fill="#050505" stroke="#050505" stroke-width="1.1" stroke-linejoin="round">404</text>
<text transform="translate(145.03 1039.12) scale(1.0000 1)" font-size="23.03" font-family="Liberation Sans, sans-serif" fill="#050505" stroke="#050505" stroke-width="1.1" stroke-linejoin="round">402</text>
<text transform="translate(239.37 1039.12) scale(1.0000 1)" font-size="23.03" font-family="Liberation Sans, sans-serif" fill="#050505" stroke="#050505" stroke-width="1.1" stroke-linejoin="round">400</text>
<text transform="translate(333.71 1039.12) scale(1.0000 1)" font-size="23.03" font-family="Liberation Sans, sans-serif" fill="#050505" stroke="#050505" stroke-width="1.1" stroke-linejoin="round">398</text>
<text transform="translate(428.05 1039.12) scale(1.0000 1)" font-size="23.03" font-family="Liberation Sans, sans-serif" fill="#050505" stroke="#050505" stroke-width="1.1" stroke-linejoin="round">396</text>
<text transform="translate(522.39 1039.12) scale(1.0000 1)" font-size="23.03" font-family="Liberation Sans, sans-serif" fill="#050505" stroke="#050505" stroke-width="1.1" stroke-linejoin="round">394</text>
<text transform="translate(616.73 1039.12) scale(1.0000 1)" font-size="23.03" font-family="Liberation Sans, sans-serif" fill="#050505" stroke="#050505" stroke-width="1.1" stroke-linejoin="round">392</text>
<text transform="translate(231.36 1063.10) scale(1.0400 1)" font-size="23.33" letter-spacing="1.587" font-family="Liberation Sans, sans-serif" fill="#050505" stroke="#050505" stroke-width="1.2" stroke-linejoin="round">Binding energy (eV<tspan dx="2.50">)</tspan></text>
<text transform="translate(59.20 881.41) rotate(-90) scale(1.4125 1)" font-size="19.71" font-family="Liberation Sans, sans-serif" fill="#050505" stroke="#050505" stroke-width="0.8" stroke-linejoin="round">Intensity (a.u.)</text>
<text transform="translate(562.11 610.40) scale(0.9987 1)" font-size="53.80" font-family="Liberation Sans, sans-serif" font-weight="bold" fill="#050505" stroke="#fff" stroke-width="0.3" stroke-linejoin="round">(d)</text>
<text transform="translate(83.23 604.30) scale(1.0607 1)" font-size="32.61" font-family="Liberation Sans, sans-serif" fill="#050505" stroke="#050505" stroke-width="1.4" stroke-linejoin="round">N 1s</text>
<text transform="translate(235.81 649.21) scale(1.1466 1)" font-size="19.11" font-family="Liberation Serif, serif" fill="#1c1c1c" stroke="#050505" stroke-width="0.7" stroke-linejoin="round">397.88</text>
<line x1="290.00" y1="625.60" x2="327.65" y2="607.40" stroke="#050505" stroke-width="2.3" stroke-linecap="round"/>
<polygon points="338.00,602.40 327.46,611.61 324.24,604.94" fill="#050505"/>
<polyline points="850.0,984.5 851.0,984.5 852.0,984.5 853.0,984.5 854.0,984.5 855.0,984.5 856.0,984.5 857.0,984.5 858.0,984.5 859.0,984.4 860.0,984.4 861.0,984.4 862.0,984.4 863.0,984.4 864.0,984.4 865.0,984.4 866.0,984.4 867.0,984.4 868.0,984.4 869.0,984.4 870.0,984.4 871.0,984.4 872.0,984.4 873.0,984.4 874.0,984.4 875.0,984.4 876.0,984.4 877.0,984.3 878.0,984.3 879.0,984.3 880.0,984.3 881.0,984.3 882.0,984.3 883.0,984.3 884.0,984.3 885.0,984.3 886.0,984.3 887.0,984.3 888.0,984.3 889.0,984.3 890.0,984.3 891.0,984.3 892.0,984.3 893.0,984.3 894.0,984.3 895.0,984.2 896.0,984.2 897.0,984.2 898.0,984.2 899.0,984.2 900.0,984.2 901.0,984.2 902.0,984.2 903.0,984.2 904.0,984.2 905.0,984.2 906.0,984.2 907.0,984.2 908.0,984.2 909.0,984.2 910.0,984.2 911.0,984.2 912.0,984.1 913.0,984.1 914.0,984.1 915.0,984.1 916.0,984.1 917.0,984.1 918.0,984.1 919.0,984.1 920.0,984.1 921.0,984.1 922.0,984.1 923.0,984.1 924.0,984.0 925.0,984.0 926.0,984.0 927.0,984.0 928.0,984.0 929.0,984.0 930.0,984.0 931.0,984.0 932.0,983.9 933.0,983.9 934.0,983.9 935.0,983.9 936.0,983.8 937.0,983.8 938.0,983.8 939.0,983.8 940.0,983.7 941.0,983.7 942.0,983.6 943.0,983.6 944.0,983.6 945.0,983.5 946.0,983.4 947.0,983.4 948.0,983.3 949.0,983.2 950.0,983.1 951.0,983.1 952.0,983.0 953.0,982.8 954.0,982.7 955.0,982.6 956.0,982.5 957.0,982.3 958.0,982.1 959.0,982.0 960.0,981.8 961.0,981.5 962.0,981.3 963.0,981.0 964.0,980.8 965.0,980.5 966.0,980.1 967.0,979.8 968.0,979.4 969.0,979.0 970.0,978.6 971.0,978.1 972.0,977.6 973.0,977.0 974.0,976.4 975.0,975.8 976.0,975.1 977.0,974.4 978.0,973.6 979.0,972.7 980.0,971.8 981.0,970.9 982.0,969.8 983.0,968.8 984.0,967.6 985.0,966.4 986.0,965.0 987.0,963.6 988.0,962.2 989.0,960.6 990.0,958.9 991.0,957.2 992.0,955.3 993.0,953.4 994.0,951.3 995.0,949.1 996.0,946.8 997.0,944.4 998.0,941.9 999.0,939.3 1000.0,936.5 1001.0,933.6 1002.0,930.6 1003.0,927.4 1004.0,924.1 1005.0,920.7 1006.0,917.1 1007.0,913.4 1008.0,909.5 1009.0,905.5 1010.0,901.4 1011.0,897.1 1012.0,892.7 1013.0,888.1 1014.0,883.4 1015.0,878.5 1016.0,873.6 1017.0,868.4 1018.0,863.2 1019.0,857.8 1020.0,852.3 1021.0,846.6 1022.0,840.9 1023.0,835.0 1024.0,829.0 1025.0,823.0 1026.0,816.8 1027.0,810.6 1028.0,804.2 1029.0,797.8 1030.0,791.4 1031.0,784.9 1032.0,778.4 1033.0,771.8 1034.0,765.2 1035.0,758.6 1036.0,752.0 1037.0,745.4 1038.0,738.9 1039.0,732.4 1040.0,725.9 1041.0,719.5 1042.0,713.2 1043.0,707.0 1044.0,700.9 1045.0,694.9 1046.0,689.0 1047.0,683.3 1048.0,677.7 1049.0,672.3 1050.0,667.1 1051.0,662.1 1052.0,657.3 1053.0,652.7 1054.0,648.3 1055.0,644.2 1056.0,640.3 1057.0,636.7 1058.0,633.3 1059.0,630.2 1060.0,627.4 1061.0,624.9 1062.0,622.7 1063.0,620.8 1064.0,619.2 1065.0,618.0 1066.0,617.0 1067.0,616.4 1068.0,616.0 1069.0,616.0 1070.0,616.4 1071.0,617.0 1072.0,618.0 1073.0,619.2 1074.0,620.8 1075.0,622.7 1076.0,624.9 1077.0,627.4 1078.0,630.2 1079.0,633.3 1080.0,636.7 1081.0,640.3 1082.0,644.2 1083.0,648.3 1084.0,652.6 1085.0,657.2 1086.0,662.1 1087.0,667.1 1088.0,672.3 1089.0,677.7 1090.0,683.2 1091.0,689.0 1092.0,694.8 1093.0,700.8 1094.0,706.9 1095.0,713.1 1096.0,719.4 1097.0,725.8 1098.0,732.3 1099.0,738.8 1100.0,745.3 1101.0,751.9 1102.0,758.5 1103.0,765.0 1104.0,771.6 1105.0,778.2 1106.0,784.7 1107.0,791.2 1108.0,797.6 1109.0,804.0 1110.0,810.3 1111.0,816.5 1112.0,822.7 1113.0,828.7 1114.0,834.7 1115.0,840.6 1116.0,846.3 1117.0,851.9 1118.0,857.4 1119.0,862.8 1120.0,868.0 1121.0,873.1 1122.0,878.1 1123.0,883.0 1124.0,887.6 1125.0,892.2 1126.0,896.6 1127.0,900.9 1128.0,905.0 1129.0,909.0 1130.0,912.8 1131.0,916.5 1132.0,920.1 1133.0,923.5 1134.0,926.8 1135.0,929.9 1136.0,932.9 1137.0,935.8 1138.0,938.6 1139.0,941.2 1140.0,943.7 1141.0,946.1 1142.0,948.4 1143.0,950.5 1144.0,952.6 1145.0,954.5 1146.0,956.4 1147.0,958.1 1148.0,959.8 1149.0,961.3 1150.0,962.8 1151.0,964.2 1152.0,965.5 1153.0,966.7 1154.0,967.8 1155.0,968.9 1156.0,969.9 1157.0,970.9 1158.0,971.8 1159.0,972.6 1160.0,973.4 1161.0,974.1 1162.0,974.8 1163.0,975.4 1164.0,976.0 1165.0,976.5 1166.0,977.0 1167.0,977.5 1168.0,977.9 1169.0,978.3 1170.0,978.7 1171.0,979.0 1172.0,979.3 1173.0,979.6 1174.0,979.9 1175.0,980.1 1176.0,980.3 1177.0,980.5 1178.0,980.7 1179.0,980.9 1180.0,981.1 1181.0,981.2 1182.0,981.3 1183.0,981.4 1184.0,981.6 1185.0,981.7 1186.0,981.7 1187.0,981.8 1188.0,981.9 1189.0,982.0 1190.0,982.0 1191.0,982.1 1192.0,982.1 1193.0,982.2 1194.0,982.2 1195.0,982.2 1196.0,982.3 1197.0,982.3 1198.0,982.3 1199.0,982.3 1200.0,982.3 1201.0,982.4 1202.0,982.4 1203.0,982.4 1204.0,982.4 1205.0,982.4 1206.0,982.4" fill="none" stroke="#ff0000" stroke-width="3.6" stroke-linejoin="round" stroke-linecap="butt"/>
<polyline points="676.0,985.5 677.0,985.5 678.0,985.5 679.0,985.5 680.0,985.5 681.0,985.5 682.0,985.5 683.0,985.5 684.0,985.5 685.0,985.5 686.0,985.5 687.0,985.5 688.0,985.5 689.0,985.5 690.0,985.5 691.0,985.5 692.0,985.5 693.0,985.5 694.0,985.5 695.0,985.5 696.0,985.5 697.0,985.5 698.0,985.5 699.0,985.5 700.0,985.5 701.0,985.5 702.0,985.5 703.0,985.5 704.0,985.5 705.0,985.5 706.0,985.5 707.0,985.5 708.0,985.5 709.0,985.5 710.0,985.5 711.0,985.5 712.0,985.5 713.0,985.5 714.0,985.5 715.0,985.5 716.0,985.5 717.0,985.5 718.0,985.5 719.0,985.5 720.0,985.5 721.0,985.5 722.0,985.5 723.0,985.5 724.0,985.5 725.0,985.5 726.0,985.5 727.0,985.5 728.0,985.5 729.0,985.5 730.0,985.5 731.0,985.5 732.0,985.5 733.0,985.5 734.0,985.5 735.0,985.5 736.0,985.5 737.0,985.5 738.0,985.5 739.0,985.5 740.0,985.5 741.0,985.5 742.0,985.5 743.0,985.5 744.0,985.5 745.0,985.5 746.0,985.5 747.0,985.5 748.0,985.5 749.0,985.5 750.0,985.5 751.0,985.5 752.0,985.5 753.0,985.5 754.0,985.5 755.0,985.5 756.0,985.5 757.0,985.5 758.0,985.5 759.0,985.5 760.0,985.5 761.0,985.5 762.0,985.5 763.0,985.5 764.0,985.5 765.0,985.5 766.0,985.5 767.0,985.5 768.0,985.5 769.0,985.5 770.0,985.5 771.0,985.5 772.0,985.5 773.0,985.5 774.0,985.5 775.0,985.5 776.0,985.5 777.0,985.5 778.0,985.5 779.0,985.5 780.0,985.5 781.0,985.5 782.0,985.5 783.0,985.5 784.0,985.5 785.0,985.5 786.0,985.5 787.0,985.5 788.0,985.5 789.0,985.5 790.0,985.5 791.0,985.4 792.0,985.4 793.0,985.4 794.0,985.4 795.0,985.4 796.0,985.4 797.0,985.4 798.0,985.4 799.0,985.4 800.0,985.4 801.0,985.4 802.0,985.4 803.0,985.4 804.0,985.4 805.0,985.3 806.0,985.3 807.0,985.3 808.0,985.3 809.0,985.3 810.0,985.3 811.0,985.2 812.0,985.2 813.0,985.2 814.0,985.2 815.0,985.2 816.0,985.1 817.0,985.1 818.0,985.1 819.0,985.1 820.0,985.0 821.0,985.0 822.0,985.0 823.0,984.9 824.0,984.9 825.0,984.8 826.0,984.8 827.0,984.7 828.0,984.7 829.0,984.6 830.0,984.6 831.0,984.5 832.0,984.4 833.0,984.4 834.0,984.3 835.0,984.2 836.0,984.1 837.0,984.1 838.0,984.0 839.0,983.9 840.0,983.8 841.0,983.7 842.0,983.5 843.0,983.4 844.0,983.3 845.0,983.2 846.0,983.0 847.0,982.9 848.0,982.7 849.0,982.6 850.0,982.4 851.0,982.3 852.0,982.1 853.0,981.9 854.0,981.7 855.0,981.5 856.0,981.3 857.0,981.0 858.0,980.8 859.0,980.5 860.0,980.3 861.0,980.0 862.0,979.7 863.0,979.5 864.0,979.2 865.0,978.8 866.0,978.5 867.0,978.2 868.0,977.8 869.0,977.5 870.0,977.1 871.0,976.7 872.0,976.3 873.0,975.9 874.0,975.4 875.0,975.0 876.0,974.5 877.0,974.1 878.0,973.6 879.0,973.1 880.0,972.5 881.0,972.0 882.0,971.4 883.0,970.9 884.0,970.3 885.0,969.7 886.0,969.1 887.0,968.4 888.0,967.8 889.0,967.1 890.0,966.4 891.0,965.7 892.0,965.0 893.0,964.3 894.0,963.6 895.0,962.8 896.0,962.0 897.0,961.2 898.0,960.4 899.0,959.6 900.0,958.8 901.0,957.9 902.0,957.1 903.0,956.2 904.0,955.3 905.0,954.4 906.0,953.5 907.0,952.6 908.0,951.6 909.0,950.7 910.0,949.8 911.0,948.8 912.0,947.8 913.0,946.9 914.0,945.9 915.0,944.9 916.0,943.9 917.0,942.9 918.0,941.9 919.0,940.9 920.0,939.9 921.0,938.9 922.0,937.9 923.0,936.9 924.0,935.9 925.0,934.9 926.0,933.9 927.0,932.9 928.0,932.0 929.0,931.0 930.0,930.0 931.0,929.1 932.0,928.1 933.0,927.2 934.0,926.3 935.0,925.4 936.0,924.5 937.0,923.6 938.0,922.8 939.0,921.9 940.0,921.1 941.0,920.3 942.0,919.5 943.0,918.8 944.0,918.1 945.0,917.4 946.0,916.7 947.0,916.0 948.0,915.4 949.0,914.8 950.0,914.2 951.0,913.7 952.0,913.2 953.0,912.7 954.0,912.3 955.0,911.8 956.0,911.5 957.0,911.1 958.0,910.8 959.0,910.5 960.0,910.3 961.0,910.0 962.0,909.9 963.0,909.7 964.0,909.6 965.0,909.5 966.0,909.5 967.0,909.5 968.0,909.5 969.0,909.6 970.0,909.7 971.0,909.9 972.0,910.0 973.0,910.3 974.0,910.5 975.0,910.8 976.0,911.1 977.0,911.5 978.0,911.8 979.0,912.3 980.0,912.7 981.0,913.2 982.0,913.7 983.0,914.2 984.0,914.8 985.0,915.4 986.0,916.0 987.0,916.7 988.0,917.4 989.0,918.1 990.0,918.8 991.0,919.5 992.0,920.3 993.0,921.1 994.0,921.9 995.0,922.8 996.0,923.6 997.0,924.5 998.0,925.4 999.0,926.3 1000.0,927.2 1001.0,928.1 1002.0,929.1 1003.0,930.0 1004.0,931.0 1005.0,932.0 1006.0,932.9 1007.0,933.9 1008.0,934.9 1009.0,935.9 1010.0,936.9 1011.0,937.9 1012.0,938.9 1013.0,939.9 1014.0,940.9 1015.0,941.9 1016.0,942.9 1017.0,943.9 1018.0,944.9 1019.0,945.9 1020.0,946.9 1021.0,947.8 1022.0,948.8 1023.0,949.8 1024.0,950.7 1025.0,951.6 1026.0,952.6 1027.0,953.5 1028.0,954.4 1029.0,955.3 1030.0,956.2 1031.0,957.1 1032.0,957.9 1033.0,958.8 1034.0,959.6 1035.0,960.4 1036.0,961.2 1037.0,962.0 1038.0,962.8 1039.0,963.6 1040.0,964.3 1041.0,965.0 1042.0,965.7 1043.0,966.4 1044.0,967.1 1045.0,967.8 1046.0,968.4 1047.0,969.1 1048.0,969.7 1049.0,970.3 1050.0,970.9 1051.0,971.4 1052.0,972.0 1053.0,972.5 1054.0,973.1 1055.0,973.6 1056.0,974.1 1057.0,974.5 1058.0,975.0 1059.0,975.4 1060.0,975.9 1061.0,976.3 1062.0,976.7 1063.0,977.1 1064.0,977.5 1065.0,977.8 1066.0,978.2 1067.0,978.5 1068.0,978.8 1069.0,979.2 1070.0,979.5 1071.0,979.7 1072.0,980.0 1073.0,980.3 1074.0,980.5 1075.0,980.8 1076.0,981.0 1077.0,981.3 1078.0,981.5 1079.0,981.7 1080.0,981.9 1081.0,982.1 1082.0,982.3 1083.0,982.4 1084.0,982.6 1085.0,982.7 1086.0,982.9 1087.0,983.0 1088.0,983.2 1089.0,983.3 1090.0,983.4 1091.0,983.5 1092.0,983.7 1093.0,983.8 1094.0,983.9 1095.0,984.0 1096.0,984.1 1097.0,984.1 1098.0,984.2 1099.0,984.3 1100.0,984.4 1101.0,984.4 1102.0,984.5 1103.0,984.6 1104.0,984.6 1105.0,984.7 1106.0,984.7 1107.0,984.8 1108.0,984.8 1109.0,984.9 1110.0,984.9 1111.0,985.0 1112.0,985.0 1113.0,985.0 1114.0,985.1 1115.0,985.1 1116.0,985.1 1117.0,985.1 1118.0,985.2 1119.0,985.2 1120.0,985.2 1121.0,985.2 1122.0,985.2 1123.0,985.3 1124.0,985.3" fill="none" stroke="#00ff00" stroke-width="5.2" stroke-linejoin="round" stroke-linecap="butt"/>
<polyline points="676.0,981.3 677.0,981.0 678.0,980.7 679.0,980.3 680.0,979.9 681.0,979.5 682.0,979.0 683.0,978.5 684.0,978.0 685.0,977.5 686.0,976.9 687.0,976.3 688.0,975.6 689.0,974.9 690.0,974.2 691.0,973.4 692.0,972.5 693.0,971.7 694.0,970.8 695.0,969.8 696.0,968.8 697.0,967.7 698.0,966.6 699.0,965.4 700.0,964.2 701.0,962.9 702.0,961.6 703.0,960.2 704.0,958.7 705.0,957.2 706.0,955.6 707.0,954.0 708.0,952.3 709.0,950.6 710.0,948.7 711.0,946.9 712.0,944.9 713.0,943.0 714.0,940.9 715.0,938.8 716.0,936.7 717.0,934.4 718.0,932.2 719.0,929.9 720.0,927.5 721.0,925.1 722.0,922.6 723.0,920.2 724.0,917.6 725.0,915.1 726.0,912.5 727.0,909.9 728.0,907.2 729.0,904.6 730.0,901.9 731.0,899.2 732.0,896.5 733.0,893.8 734.0,891.2 735.0,888.5 736.0,885.8 737.0,883.2 738.0,880.6 739.0,878.0 740.0,875.5 741.0,873.0 742.0,870.5 743.0,868.1 744.0,865.8 745.0,863.5 746.0,861.3 747.0,859.2 748.0,857.2 749.0,855.2 750.0,853.3 751.0,851.6 752.0,849.9 753.0,848.4 754.0,846.9 755.0,845.6 756.0,844.3 757.0,843.2 758.0,842.3 759.0,841.4 760.0,840.7 761.0,840.1 762.0,839.6 763.0,839.3 764.0,839.1 765.0,839.0 766.0,839.1 767.0,839.3 768.0,839.6 769.0,840.1 770.0,840.7 771.0,841.4 772.0,842.3 773.0,843.2 774.0,844.3 775.0,845.6 776.0,846.9 777.0,848.4 778.0,849.9 779.0,851.6 780.0,853.3 781.0,855.2 782.0,857.2 783.0,859.2 784.0,861.3 785.0,863.5 786.0,865.8 787.0,868.1 788.0,870.5 789.0,873.0 790.0,875.5 791.0,878.0 792.0,880.6 793.0,883.2 794.0,885.8 795.0,888.5 796.0,891.2 797.0,893.8 798.0,896.5 799.0,899.2 800.0,901.9 801.0,904.6 802.0,907.2 803.0,909.9 804.0,912.5 805.0,915.1 806.0,917.6 807.0,920.2 808.0,922.6 809.0,925.1 810.0,927.5 811.0,929.9 812.0,932.2 813.0,934.4 814.0,936.7 815.0,938.8 816.0,940.9 817.0,943.0 818.0,944.9 819.0,946.9 820.0,948.7 821.0,950.6 822.0,952.3 823.0,954.0 824.0,955.6 825.0,957.2 826.0,958.7 827.0,960.2 828.0,961.6 829.0,962.9 830.0,964.2 831.0,965.4 832.0,966.6 833.0,967.7 834.0,968.8 835.0,969.8 836.0,970.8 837.0,971.7 838.0,972.5 839.0,973.4 840.0,974.2 841.0,974.9 842.0,975.6 843.0,976.3 844.0,976.9 845.0,977.5 846.0,978.0 847.0,978.5 848.0,979.0 849.0,979.5 850.0,979.9 851.0,980.3 852.0,980.7 853.0,981.0 854.0,981.3 855.0,981.7 856.0,981.9 857.0,982.2 858.0,982.4 859.0,982.7 860.0,982.9 861.0,983.1 862.0,983.3 863.0,983.4 864.0,983.6 865.0,983.7 866.0,983.8 867.0,984.0 868.0,984.1 869.0,984.2 870.0,984.3 871.0,984.4 872.0,984.4 873.0,984.5 874.0,984.6 875.0,984.6 876.0,984.7 877.0,984.7 878.0,984.8 879.0,984.8 880.0,984.9 881.0,984.9 882.0,984.9 883.0,985.0 884.0,985.0 885.0,985.0 886.0,985.0 887.0,985.0 888.0,985.1 889.0,985.1 890.0,985.1 891.0,985.1 892.0,985.1 893.0,985.1 894.0,985.1 895.0,985.1 896.0,985.1 897.0,985.2 898.0,985.2 899.0,985.2 900.0,985.2 901.0,985.2 902.0,985.2 903.0,985.2 904.0,985.2 905.0,985.2 906.0,985.2 907.0,985.2 908.0,985.2 909.0,985.2 910.0,985.2 911.0,985.2 912.0,985.2 913.0,985.2 914.0,985.2 915.0,985.2 916.0,985.2 917.0,985.2 918.0,985.2 919.0,985.2 920.0,985.2 921.0,985.2 922.0,985.2 923.0,985.2 924.0,985.2 925.0,985.2 926.0,985.2 927.0,985.2 928.0,985.2 929.0,985.2 930.0,985.2 931.0,985.2 932.0,985.2 933.0,985.2 934.0,985.2 935.0,985.2 936.0,985.2 937.0,985.2 938.0,985.2 939.0,985.2 940.0,985.2 941.0,985.2 942.0,985.2 943.0,985.2 944.0,985.2 945.0,985.2 946.0,985.2 947.0,985.2 948.0,985.2 949.0,985.2 950.0,985.2 951.0,985.2 952.0,985.2 953.0,985.2 954.0,985.2 955.0,985.2 956.0,985.2 957.0,985.2 958.0,985.2 959.0,985.2 960.0,985.2 961.0,985.2 962.0,985.2 963.0,985.2 964.0,985.2 965.0,985.2 966.0,985.2 967.0,985.2 968.0,985.2 969.0,985.2 970.0,985.2 971.0,985.2 972.0,985.2 973.0,985.2 974.0,985.2 975.0,985.2 976.0,985.2 977.0,985.2 978.0,985.2 979.0,985.2 980.0,985.2 981.0,985.2 982.0,985.2 983.0,985.2 984.0,985.2 985.0,985.2 986.0,985.2 987.0,985.2 988.0,985.2 989.0,985.2 990.0,985.2 991.0,985.2 992.0,985.2 993.0,985.2 994.0,985.2 995.0,985.2 996.0,985.2 997.0,985.2 998.0,985.2 999.0,985.2 1000.0,985.2 1001.0,985.2 1002.0,985.2 1003.0,985.2 1004.0,985.2 1005.0,985.2 1006.0,985.2 1007.0,985.2 1008.0,985.2 1009.0,985.2 1010.0,985.2 1011.0,985.2 1012.0,985.2 1013.0,985.2 1014.0,985.2 1015.0,985.2 1016.0,985.2 1017.0,985.2 1018.0,985.2 1019.0,985.2 1020.0,985.2 1021.0,985.2 1022.0,985.2 1023.0,985.2 1024.0,985.2 1025.0,985.2 1026.0,985.2 1027.0,985.2 1028.0,985.2 1029.0,985.2 1030.0,985.2 1031.0,985.2 1032.0,985.2 1033.0,985.2 1034.0,985.2 1035.0,985.2 1036.0,985.2 1037.0,985.2 1038.0,985.2 1039.0,985.2 1040.0,985.2 1041.0,985.2 1042.0,985.2 1043.0,985.2 1044.0,985.2 1045.0,985.2 1046.0,985.2 1047.0,985.2 1048.0,985.2 1049.0,985.2 1050.0,985.2 1051.0,985.2 1052.0,985.2 1053.0,985.2 1054.0,985.2 1055.0,985.2 1056.0,985.2 1057.0,985.2 1058.0,985.2 1059.0,985.2 1060.0,985.2 1061.0,985.2 1062.0,985.2 1063.0,985.2 1064.0,985.2 1065.0,985.2 1066.0,985.2 1067.0,985.2 1068.0,985.2 1069.0,985.2 1070.0,985.2 1071.0,985.2 1072.0,985.2 1073.0,985.2 1074.0,985.2 1075.0,985.2 1076.0,985.2 1077.0,985.2 1078.0,985.2 1079.0,985.2 1080.0,985.2 1081.0,985.2 1082.0,985.2 1083.0,985.2 1084.0,985.2 1085.0,985.2 1086.0,985.2 1087.0,985.2 1088.0,985.2 1089.0,985.2 1090.0,985.2 1091.0,985.2 1092.0,985.2 1093.0,985.2 1094.0,985.2 1095.0,985.2 1096.0,985.2 1097.0,985.2 1098.0,985.2 1099.0,985.2 1100.0,985.2 1101.0,985.2 1102.0,985.2 1103.0,985.2 1104.0,985.2 1105.0,985.2 1106.0,985.2 1107.0,985.2 1108.0,985.2 1109.0,985.2 1110.0,985.2 1111.0,985.2 1112.0,985.2 1113.0,985.2 1114.0,985.2 1115.0,985.2 1116.0,985.2 1117.0,985.2 1118.0,985.2 1119.0,985.2 1120.0,985.2 1121.0,985.2 1122.0,985.2 1123.0,985.2 1124.0,985.2 1125.0,985.2 1126.0,985.2 1127.0,985.2 1128.0,985.2 1129.0,985.2 1130.0,985.2 1131.0,985.2 1132.0,985.2 1133.0,985.2 1134.0,985.2 1135.0,985.2 1136.0,985.2 1137.0,985.2 1138.0,985.2 1139.0,985.2 1140.0,985.2 1141.0,985.2 1142.0,985.2 1143.0,985.2 1144.0,985.2 1145.0,985.2 1146.0,985.2 1147.0,985.2 1148.0,985.2 1149.0,985.2 1150.0,985.2 1151.0,985.2 1152.0,985.2 1153.0,985.2 1154.0,985.2 1155.0,985.2 1156.0,985.2 1157.0,985.2 1158.0,985.2 1159.0,985.2 1160.0,985.2 1161.0,985.2 1162.0,985.2 1163.0,985.2 1164.0,985.2 1165.0,985.2 1166.0,985.2 1167.0,985.2 1168.0,985.2 1169.0,985.2 1170.0,985.2 1171.0,985.2 1172.0,985.2 1173.0,985.2 1174.0,985.2 1175.0,985.2 1176.0,985.2 1177.0,985.2 1178.0,985.2 1179.0,985.2 1180.0,985.2 1181.0,985.2 1182.0,985.2 1183.0,985.2 1184.0,985.2 1185.0,985.2 1186.0,985.2 1187.0,985.2 1188.0,985.2 1189.0,985.2 1190.0,985.2 1191.0,985.2 1192.0,985.2 1193.0,985.2 1194.0,985.2 1195.0,985.2 1196.0,985.2 1197.0,985.2 1198.0,985.2 1199.0,985.2 1200.0,985.2 1201.0,985.2 1202.0,985.2 1203.0,985.2 1204.0,985.2 1205.0,985.2 1206.0,985.2 1207.0,985.2 1208.0,985.2 1209.0,985.2 1210.0,985.2 1211.0,985.2 1212.0,985.2 1213.0,985.2 1214.0,985.2 1215.0,985.2 1216.0,985.2 1217.0,985.2 1218.0,985.2 1219.0,985.2 1220.0,985.2 1221.0,985.2 1222.0,985.2 1223.0,985.2 1224.0,985.2 1225.0,985.2 1226.0,985.2 1227.0,985.2 1228.0,985.2 1229.0,985.2 1230.0,985.2 1231.0,985.2 1232.0,985.2 1233.0,985.2 1234.0,985.2" fill="none" stroke="#0000ff" stroke-width="4.0" stroke-linejoin="round" stroke-linecap="butt"/>
<rect x="674.90" y="562.50" width="559.30" height="442.30" fill="none" stroke="#000" stroke-width="3.9"/>
<line x1="694.80" y1="1004.80" x2="694.80" y2="1014.60" stroke="#000" stroke-width="3.3" stroke-linecap="butt"/>
<line x1="791.15" y1="1004.80" x2="791.15" y2="1014.60" stroke="#000" stroke-width="3.3" stroke-linecap="butt"/>
<line x1="887.50" y1="1004.80" x2="887.50" y2="1014.60" stroke="#000" stroke-width="3.3" stroke-linecap="butt"/>
<line x1="983.85" y1="1004.80" x2="983.85" y2="1014.60" stroke="#000" stroke-width="3.3" stroke-linecap="butt"/>
<line x1="1080.20" y1="1004.80" x2="1080.20" y2="1014.60" stroke="#000" stroke-width="3.3" stroke-linecap="butt"/>
<line x1="1176.55" y1="1004.80" x2="1176.55" y2="1014.60" stroke="#000" stroke-width="3.3" stroke-linecap="butt"/>
<line x1="742.97" y1="1004.80" x2="742.97" y2="1010.80" stroke="#000" stroke-width="3.3" stroke-linecap="butt"/>
<line x1="839.32" y1="1004.80" x2="839.32" y2="1010.80" stroke="#000" stroke-width="3.3" stroke-linecap="butt"/>
<line x1="935.67" y1="1004.80" x2="935.67" y2="1010.80" stroke="#000" stroke-width="3.3" stroke-linecap="butt"/>
<line x1="1032.02" y1="1004.80" x2="1032.02" y2="1010.80" stroke="#000" stroke-width="3.3" stroke-linecap="butt"/>
<line x1="1128.38" y1="1004.80" x2="1128.38" y2="1010.80" stroke="#000" stroke-width="3.3" stroke-linecap="butt"/>
<line x1="1224.72" y1="1004.80" x2="1224.72" y2="1010.80" stroke="#000" stroke-width="3.3" stroke-linecap="butt"/>
<text transform="translate(674.61 1036.42) scale(1.0000 1)" font-size="22.89" font-family="Liberation Sans, sans-serif" fill="#050505" stroke="#050505" stroke-width="1.1" stroke-linejoin="round">800</text>
<text transform="translate(770.96 1036.42) scale(1.0000 1)" font-size="22.89" font-family="Liberation Sans, sans-serif" fill="#050505" stroke="#050505" stroke-width="1.1" stroke-linejoin="round">795</text>
<text transform="translate(867.31 1036.42) scale(1.0000 1)" font-size="22.89" font-family="Liberation Sans, sans-serif" fill="#050505" stroke="#050505" stroke-width="1.1" stroke-linejoin="round">790</text>
<text transform="translate(963.66 1036.42) scale(1.0000 1)" font-size="22.89" font-family="Liberation Sans, sans-serif" fill="#050505" stroke="#050505" stroke-width="1.1" stroke-linejoin="round">785</text>
<text transform="translate(1060.01 1036.42) scale(1.0000 1)" font-size="22.89" font-family="Liberation Sans, sans-serif" fill="#050505" stroke="#050505" stroke-width="1.1" stroke-linejoin="round">780</text>
<text transform="translate(1156.36 1036.42) scale(1.0000 1)" font-size="22.89" font-family="Liberation Sans, sans-serif" fill="#050505" stroke="#050505" stroke-width="1.1" stroke-linejoin="round">775</text>
<text transform="translate(833.74 1061.40) scale(1.0400 1)" font-size="22.90" letter-spacing="1.457" font-family="Liberation Sans, sans-serif" fill="#050505" stroke="#050505" stroke-width="1.2" stroke-linejoin="round">Binding energy (eV<tspan dx="2.50">)</tspan></text>
<text transform="translate(664.95 870.12) rotate(-90) scale(1.1780 1)" font-size="23.33" font-family="Liberation Sans, sans-serif" fill="#050505" stroke="#050505" stroke-width="1.3" stroke-linejoin="round">Intensity (a.u.)</text>
<text transform="translate(1161.14 612.20) scale(0.9897 1)" font-size="53.80" font-family="Liberation Sans, sans-serif" font-weight="bold" fill="#050505" stroke="#fff" stroke-width="0.3" stroke-linejoin="round">(e)</text>
<text transform="translate(687.20 599.69) scale(1.1131 1)" font-size="30.56" font-family="Liberation Sans, sans-serif" fill="#050505" stroke="#050505" stroke-width="1.4" stroke-linejoin="round">Co 2p</text>
<text transform="translate(803.80 791.21) scale(1.1276 1)" font-size="19.11" font-family="Liberation Serif, serif" fill="#1c1c1c" stroke="#050505" stroke-width="0.7" stroke-linejoin="round">796.39</text>
<line x1="846.00" y1="798.00" x2="792.38" y2="828.69" stroke="#050505" stroke-width="2.3" stroke-linecap="round"/>
<polygon points="782.40,834.40 792.28,824.48 795.95,830.91" fill="#050505"/>
<text transform="translate(882.39 863.21) scale(1.1355 1)" font-size="19.11" font-family="Liberation Serif, serif" fill="#1c1c1c" stroke="#050505" stroke-width="0.7" stroke-linejoin="round">786.00</text>
<line x1="925.60" y1="875.60" x2="955.67" y2="897.28" stroke="#050505" stroke-width="2.3" stroke-linecap="round"/>
<polygon points="965.00,904.00 951.88,899.11 956.21,893.10" fill="#050505"/>
<text transform="translate(979.42 662.80) scale(1.0621 1)" font-size="20.00" font-family="Liberation Serif, serif" fill="#1c1c1c" stroke="#050505" stroke-width="0.7" stroke-linejoin="round">780.56</text>
<line x1="1009.00" y1="643.60" x2="1043.06" y2="623.78" stroke="#050505" stroke-width="2.3" stroke-linecap="round"/>
<polygon points="1053.00,618.00 1043.19,627.99 1039.47,621.59" fill="#050505"/>
<polyline points="1293.0,992.0 1294.0,992.0 1295.0,992.0 1296.0,992.0 1297.0,992.0 1298.0,992.0 1299.0,992.0 1300.0,992.0 1301.0,992.0 1302.0,992.0 1303.0,992.0 1304.0,992.0 1305.0,992.0 1306.0,992.0 1307.0,992.0 1308.0,992.0 1309.0,992.0 1310.0,992.0 1311.0,992.0 1312.0,992.0 1313.0,992.0 1314.0,992.0 1315.0,992.0 1316.0,992.0 1317.0,992.0 1318.0,992.0 1319.0,992.0 1320.0,992.0 1321.0,992.0 1322.0,992.0 1323.0,992.0 1324.0,992.0 1325.0,992.0 1326.0,992.0 1327.0,992.0 1328.0,992.0 1329.0,992.0 1330.0,992.0 1331.0,992.0 1332.0,992.0 1333.0,992.0 1334.0,992.0 1335.0,992.0 1336.0,992.0 1337.0,992.0 1338.0,992.0 1339.0,992.0 1340.0,992.0 1341.0,992.0 1342.0,992.0 1343.0,992.0 1344.0,992.0 1345.0,992.0 1346.0,992.0 1347.0,992.0 1348.0,992.0 1349.0,992.0 1350.0,992.0 1351.0,992.0 1352.0,992.0 1353.0,992.0 1354.0,992.0 1355.0,992.0 1356.0,992.0 1357.0,992.0 1358.0,992.0 1359.0,992.0 1360.0,992.0 1361.0,992.0 1362.0,992.0 1363.0,992.0 1364.0,992.0 1365.0,992.0 1366.0,992.0 1367.0,992.0 1368.0,992.0 1369.0,992.0 1370.0,992.0 1371.0,992.0 1372.0,992.0 1373.0,992.0 1374.0,992.0 1375.0,992.0 1376.0,992.0 1377.0,992.0 1378.0,992.0 1379.0,992.0 1380.0,992.0 1381.0,992.0 1382.0,992.0 1383.0,992.0 1384.0,992.0 1385.0,992.0 1386.0,992.0 1387.0,992.0 1388.0,992.0 1389.0,992.0 1390.0,992.0 1391.0,992.0 1392.0,992.0 1393.0,992.0 1394.0,992.0 1395.0,992.0 1396.0,992.0 1397.0,992.0 1398.0,992.0 1399.0,992.0 1400.0,992.0 1401.0,992.0 1402.0,992.0 1403.0,992.0 1404.0,992.0 1405.0,992.0 1406.0,992.0 1407.0,992.0 1408.0,992.0 1409.0,992.0 1410.0,992.0 1411.0,992.0 1412.0,992.0 1413.0,992.0 1414.0,992.0 1415.0,992.0 1416.0,992.0 1417.0,992.0 1418.0,992.0 1419.0,992.0 1420.0,992.0 1421.0,992.0 1422.0,992.0 1423.0,992.0 1424.0,992.0 1425.0,992.0 1426.0,992.0 1427.0,992.0 1428.0,992.0 1429.0,992.0 1430.0,992.0 1431.0,992.0 1432.0,992.0 1433.0,992.0 1434.0,992.0 1435.0,992.0 1436.0,992.0 1437.0,992.0 1438.0,992.0 1439.0,992.0 1440.0,992.0 1441.0,992.0 1442.0,992.0 1443.0,992.0 1444.0,992.0 1445.0,992.0 1446.0,992.0 1447.0,992.0 1448.0,992.0 1449.0,992.0 1450.0,992.0 1451.0,992.0 1452.0,992.0 1453.0,992.0 1454.0,992.0 1455.0,992.0 1456.0,992.0 1457.0,992.0 1458.0,992.0 1459.0,992.0 1460.0,992.0 1461.0,992.0 1462.0,992.0 1463.0,992.0 1464.0,992.0 1465.0,992.0 1466.0,992.0 1467.0,992.0 1468.0,992.0 1469.0,992.0 1470.0,992.0 1471.0,992.0 1472.0,992.0 1473.0,992.0 1474.0,992.0 1475.0,992.0 1476.0,992.0 1477.0,992.0 1478.0,992.0 1479.0,992.0 1480.0,992.0 1481.0,992.0 1482.0,992.0 1483.0,992.0 1484.0,992.0 1485.0,992.0 1486.0,992.0 1487.0,992.0 1488.0,992.0 1489.0,992.0 1490.0,992.0 1491.0,992.0 1492.0,992.0 1493.0,992.0 1494.0,992.0 1495.0,992.0 1496.0,992.0 1497.0,992.0 1498.0,992.0 1499.0,992.0 1500.0,992.0 1501.0,992.0 1502.0,992.0 1503.0,992.0 1504.0,992.0 1505.0,992.0 1506.0,992.0 1507.0,992.0 1508.0,992.0 1509.0,992.0 1510.0,992.0 1511.0,992.0 1512.0,992.0 1513.0,992.0 1514.0,992.0 1515.0,992.0 1516.0,992.0 1517.0,992.0 1518.0,992.0 1519.0,992.0 1520.0,992.0 1521.0,992.0 1522.0,992.0 1523.0,992.0 1524.0,992.0 1525.0,992.0 1526.0,992.0 1527.0,992.0 1528.0,992.0 1529.0,992.0 1530.0,992.0 1531.0,992.0 1532.0,992.0 1533.0,992.0 1534.0,992.0" fill="none" stroke="#ff0000" stroke-width="3.8" stroke-linejoin="round" stroke-linecap="butt"/>
<polyline points="1564.0,989.6 1565.0,989.5 1566.0,989.4 1567.0,989.3 1568.0,989.2 1569.0,989.1 1570.0,988.9 1571.0,988.8 1572.0,988.7 1573.0,988.5 1574.0,988.3 1575.0,988.1 1576.0,987.9 1577.0,987.7 1578.0,987.4 1579.0,987.2 1580.0,986.9 1581.0,986.6 1582.0,986.2 1583.0,985.8 1584.0,985.4 1585.0,985.0 1586.0,984.5 1587.0,984.0 1588.0,983.4 1589.0,982.7 1590.0,982.1 1591.0,981.3 1592.0,980.5 1593.0,979.7 1594.0,978.7 1595.0,977.7 1596.0,976.6 1597.0,975.5 1598.0,974.2 1599.0,972.9 1600.0,971.4 1601.0,969.8 1602.0,968.1 1603.0,966.3 1604.0,964.4 1605.0,962.4 1606.0,960.2 1607.0,957.8 1608.0,955.4 1609.0,952.7 1610.0,949.9 1611.0,947.0 1612.0,943.8 1613.0,940.5 1614.0,937.0 1615.0,933.3 1616.0,929.5 1617.0,925.4 1618.0,921.1 1619.0,916.6 1620.0,912.0 1621.0,907.1 1622.0,902.0 1623.0,896.7 1624.0,891.2 1625.0,885.5 1626.0,879.6 1627.0,873.5 1628.0,867.2 1629.0,860.7 1630.0,854.0 1631.0,847.1 1632.0,840.1 1633.0,832.9 1634.0,825.5 1635.0,818.0 1636.0,810.4 1637.0,802.6 1638.0,794.8 1639.0,786.9 1640.0,778.8 1641.0,770.8 1642.0,762.7 1643.0,754.6 1644.0,746.5 1645.0,738.4 1646.0,730.4 1647.0,722.4 1648.0,714.5 1649.0,706.7 1650.0,699.1 1651.0,691.6 1652.0,684.4 1653.0,677.3 1654.0,670.4 1655.0,663.8 1656.0,657.5 1657.0,651.5 1658.0,645.8 1659.0,640.5 1660.0,635.5 1661.0,630.9 1662.0,626.7 1663.0,623.0 1664.0,619.7 1665.0,616.8 1666.0,614.4 1667.0,612.5 1668.0,611.0 1669.0,610.1 1670.0,609.6 1671.0,609.7 1672.0,610.2 1673.0,611.3 1674.0,612.8 1675.0,614.8 1676.0,617.3 1677.0,620.3 1678.0,623.7 1679.0,627.5 1680.0,631.8 1681.0,636.5 1682.0,641.5 1683.0,646.9 1684.0,652.7 1685.0,658.8 1686.0,665.1 1687.0,671.8 1688.0,678.7 1689.0,685.8 1690.0,693.1 1691.0,700.6 1692.0,708.3 1693.0,716.1 1694.0,724.0 1695.0,732.0 1696.0,740.0 1697.0,748.1 1698.0,756.2 1699.0,764.3 1700.0,772.4 1701.0,780.5 1702.0,788.4 1703.0,796.4 1704.0,804.2 1705.0,811.9 1706.0,819.5 1707.0,827.0 1708.0,834.3 1709.0,841.5 1710.0,848.5 1711.0,855.3 1712.0,862.0 1713.0,868.4 1714.0,874.7 1715.0,880.8 1716.0,886.7 1717.0,892.3 1718.0,897.8 1719.0,903.0 1720.0,908.1 1721.0,912.9 1722.0,917.6 1723.0,922.0 1724.0,926.2 1725.0,930.2 1726.0,934.1 1727.0,937.7 1728.0,941.2 1729.0,944.5 1730.0,947.6 1731.0,950.5 1732.0,953.3 1733.0,955.9 1734.0,958.3 1735.0,960.6 1736.0,962.8 1737.0,964.8 1738.0,966.7 1739.0,968.5 1740.0,970.1 1741.0,971.7 1742.0,973.1 1743.0,974.5 1744.0,975.7 1745.0,976.9 1746.0,977.9 1747.0,978.9 1748.0,979.9 1749.0,980.7 1750.0,981.5 1751.0,982.2 1752.0,982.9 1753.0,983.5 1754.0,984.1 1755.0,984.6 1756.0,985.1 1757.0,985.5 1758.0,985.9 1759.0,986.3 1760.0,986.6 1761.0,986.9 1762.0,987.2 1763.0,987.5 1764.0,987.7 1765.0,988.0 1766.0,988.2 1767.0,988.4 1768.0,988.5 1769.0,988.7 1770.0,988.8 1771.0,989.0 1772.0,989.1 1773.0,989.2 1774.0,989.3 1775.0,989.4 1776.0,989.5 1777.0,989.6 1778.0,989.7 1779.0,989.8 1780.0,989.8 1781.0,989.9 1782.0,990.0 1783.0,990.0 1784.0,990.1 1785.0,990.1 1786.0,990.2 1787.0,990.2 1788.0,990.3 1789.0,990.3 1790.0,990.3 1791.0,990.4 1792.0,990.4 1793.0,990.5 1794.0,990.5" fill="none" stroke="#ff0000" stroke-width="3.8" stroke-linejoin="round" stroke-linecap="butt"/>
<polyline points="1293.0,991.0 1294.0,991.0 1295.0,991.0 1296.0,990.9 1297.0,990.9 1298.0,990.9 1299.0,990.9 1300.0,990.9 1301.0,990.9 1302.0,990.9 1303.0,990.9 1304.0,990.9 1305.0,990.8 1306.0,990.8 1307.0,990.8 1308.0,990.7 1309.0,990.7 1310.0,990.7 1311.0,990.6 1312.0,990.6 1313.0,990.5 1314.0,990.4 1315.0,990.4 1316.0,990.3 1317.0,990.2 1318.0,990.1 1319.0,990.0 1320.0,989.8 1321.0,989.7 1322.0,989.5 1323.0,989.3 1324.0,989.2 1325.0,988.9 1326.0,988.7 1327.0,988.4 1328.0,988.1 1329.0,987.8 1330.0,987.5 1331.0,987.1 1332.0,986.7 1333.0,986.2 1334.0,985.7 1335.0,985.2 1336.0,984.6 1337.0,984.0 1338.0,983.3 1339.0,982.6 1340.0,981.8 1341.0,980.9 1342.0,980.0 1343.0,979.0 1344.0,977.9 1345.0,976.7 1346.0,975.5 1347.0,974.2 1348.0,972.8 1349.0,971.3 1350.0,969.7 1351.0,968.0 1352.0,966.1 1353.0,964.2 1354.0,962.2 1355.0,960.0 1356.0,957.8 1357.0,955.4 1358.0,952.8 1359.0,950.2 1360.0,947.4 1361.0,944.5 1362.0,941.5 1363.0,938.3 1364.0,935.0 1365.0,931.5 1366.0,927.9 1367.0,924.2 1368.0,920.3 1369.0,916.3 1370.0,912.2 1371.0,908.0 1372.0,903.6 1373.0,899.1 1374.0,894.5 1375.0,889.8 1376.0,885.0 1377.0,880.0 1378.0,875.0 1379.0,870.0 1380.0,864.8 1381.0,859.6 1382.0,854.4 1383.0,849.1 1384.0,843.7 1385.0,838.4 1386.0,833.1 1387.0,827.7 1388.0,822.4 1389.0,817.1 1390.0,811.9 1391.0,806.8 1392.0,801.7 1393.0,796.7 1394.0,791.9 1395.0,787.1 1396.0,782.5 1397.0,778.1 1398.0,773.8 1399.0,769.7 1400.0,765.8 1401.0,762.1 1402.0,758.6 1403.0,755.4 1404.0,752.3 1405.0,749.6 1406.0,747.1 1407.0,744.9 1408.0,742.9 1409.0,741.3 1410.0,739.9 1411.0,738.9 1412.0,738.1 1413.0,737.7 1414.0,737.5 1415.0,737.7 1416.0,738.1 1417.0,738.9 1418.0,739.9 1419.0,741.3 1420.0,742.9 1421.0,744.9 1422.0,747.1 1423.0,749.6 1424.0,752.3 1425.0,755.4 1426.0,758.6 1427.0,762.1 1428.0,765.8 1429.0,769.7 1430.0,773.8 1431.0,778.1 1432.0,782.5 1433.0,787.1 1434.0,791.9 1435.0,796.8 1436.0,801.7 1437.0,806.8 1438.0,812.0 1439.0,817.2 1440.0,822.5 1441.0,827.8 1442.0,833.1 1443.0,838.5 1444.0,843.8 1445.0,849.1 1446.0,854.4 1447.0,859.7 1448.0,864.9 1449.0,870.1 1450.0,875.1 1451.0,880.1 1452.0,885.1 1453.0,889.9 1454.0,894.6 1455.0,899.2 1456.0,903.7 1457.0,908.1 1458.0,912.4 1459.0,916.5 1460.0,920.5 1461.0,924.3 1462.0,928.1 1463.0,931.7 1464.0,935.1 1465.0,938.5 1466.0,941.7 1467.0,944.7 1468.0,947.6 1469.0,950.4 1470.0,953.1 1471.0,955.6 1472.0,958.0 1473.0,960.3 1474.0,962.4 1475.0,964.5 1476.0,966.4 1477.0,968.2 1478.0,969.9 1479.0,971.5 1480.0,973.1 1481.0,974.5 1482.0,975.8 1483.0,977.0 1484.0,978.2 1485.0,979.3 1486.0,980.3 1487.0,981.2 1488.0,982.1 1489.0,982.9 1490.0,983.6 1491.0,984.3 1492.0,985.0 1493.0,985.6 1494.0,986.1 1495.0,986.6 1496.0,987.1 1497.0,987.5 1498.0,987.9 1499.0,988.2 1500.0,988.5 1501.0,988.8 1502.0,989.1 1503.0,989.3 1504.0,989.6 1505.0,989.8 1506.0,989.9 1507.0,990.1 1508.0,990.3 1509.0,990.4 1510.0,990.5 1511.0,990.6 1512.0,990.7 1513.0,990.8 1514.0,990.9 1515.0,991.0 1516.0,991.0 1517.0,991.1 1518.0,991.1 1519.0,991.2 1520.0,991.2 1521.0,991.3 1522.0,991.3 1523.0,991.3 1524.0,991.4 1525.0,991.4 1526.0,991.5 1527.0,991.5 1528.0,991.6 1529.0,991.7 1530.0,991.8 1531.0,991.9 1532.0,992.1 1533.0,992.2 1534.0,992.4 1535.0,992.5 1536.0,992.6 1537.0,992.7 1538.0,992.7 1539.0,992.7 1540.0,992.6 1541.0,992.4 1542.0,992.1 1543.0,991.7 1544.0,991.2 1545.0,990.6 1546.0,989.9 1547.0,989.1 1548.0,988.4 1549.0,987.7 1550.0,987.3 1551.0,987.1 1552.0,987.3 1553.0,987.6 1554.0,988.2 1555.0,988.9 1556.0,989.5 1557.0,990.1 1558.0,990.6 1559.0,991.0 1560.0,991.3 1561.0,991.4 1562.0,991.5 1563.0,991.6 1564.0,991.6 1565.0,991.6 1566.0,991.6 1567.0,991.6 1568.0,991.6 1569.0,991.6 1570.0,991.6 1571.0,991.6 1572.0,991.6 1573.0,991.6 1574.0,991.6 1575.0,991.7 1576.0,991.7 1577.0,991.7 1578.0,991.7 1579.0,991.7 1580.0,991.7 1581.0,991.7 1582.0,991.7 1583.0,991.7 1584.0,991.7 1585.0,991.7 1586.0,991.7 1587.0,991.7 1588.0,991.7 1589.0,991.7 1590.0,991.7 1591.0,991.7 1592.0,991.7 1593.0,991.7 1594.0,991.7 1595.0,991.7 1596.0,991.7 1597.0,991.7 1598.0,991.7 1599.0,991.7 1600.0,991.7 1601.0,991.7 1602.0,991.7 1603.0,991.7 1604.0,991.7 1605.0,991.7 1606.0,991.7 1607.0,991.7 1608.0,991.7 1609.0,991.7 1610.0,991.7 1611.0,991.7 1612.0,991.7 1613.0,991.7 1614.0,991.7 1615.0,991.7 1616.0,991.7 1617.0,991.7 1618.0,991.8 1619.0,991.8 1620.0,991.8 1621.0,991.8 1622.0,991.8 1623.0,991.8 1624.0,991.8 1625.0,991.8 1626.0,991.8 1627.0,991.8 1628.0,991.8 1629.0,991.8 1630.0,991.8 1631.0,991.8 1632.0,991.8 1633.0,991.8 1634.0,991.8 1635.0,991.8 1636.0,991.8 1637.0,991.8 1638.0,991.8 1639.0,991.8 1640.0,991.8 1641.0,991.8 1642.0,991.8 1643.0,991.8 1644.0,991.8 1645.0,991.8 1646.0,991.8 1647.0,991.8 1648.0,991.8 1649.0,991.8 1650.0,991.8 1651.0,991.8 1652.0,991.8 1653.0,991.8 1654.0,991.8 1655.0,991.8 1656.0,991.8 1657.0,991.8 1658.0,991.8 1659.0,991.8 1660.0,991.8 1661.0,991.9 1662.0,991.9 1663.0,991.9 1664.0,991.9 1665.0,991.9 1666.0,991.9 1667.0,991.9 1668.0,991.9 1669.0,991.9 1670.0,991.9 1671.0,991.9 1672.0,991.9 1673.0,991.9 1674.0,991.9 1675.0,991.9 1676.0,991.9 1677.0,991.9 1678.0,991.9 1679.0,991.9 1680.0,991.9 1681.0,991.9 1682.0,991.9 1683.0,991.9 1684.0,991.9 1685.0,991.9 1686.0,991.9 1687.0,991.9 1688.0,991.9 1689.0,991.9 1690.0,991.9 1691.0,991.9 1692.0,991.9 1693.0,991.9 1694.0,991.9 1695.0,991.9 1696.0,991.9 1697.0,991.9 1698.0,991.9 1699.0,991.9 1700.0,991.9 1701.0,991.9 1702.0,991.9 1703.0,991.9 1704.0,992.0 1705.0,992.0 1706.0,992.0 1707.0,992.0 1708.0,992.0 1709.0,992.0 1710.0,992.0 1711.0,992.0 1712.0,992.0 1713.0,992.0 1714.0,992.0 1715.0,992.0 1716.0,992.0 1717.0,992.0 1718.0,992.0 1719.0,992.0 1720.0,992.0 1721.0,992.0 1722.0,992.0 1723.0,992.0 1724.0,992.0 1725.0,992.0 1726.0,992.0 1727.0,992.0 1728.0,992.0 1729.0,992.0 1730.0,992.0 1731.0,992.0 1732.0,992.0 1733.0,992.0 1734.0,992.0 1735.0,992.0 1736.0,992.0 1737.0,992.0 1738.0,992.0 1739.0,992.0 1740.0,992.0 1741.0,992.0 1742.0,992.0 1743.0,992.0 1744.0,992.0 1745.0,992.0 1746.0,992.0 1747.0,992.1 1748.0,992.1 1749.0,992.1 1750.0,992.1 1751.0,992.1 1752.0,992.1 1753.0,992.1 1754.0,992.1 1755.0,992.1 1756.0,992.1 1757.0,992.1 1758.0,992.1 1759.0,992.1 1760.0,992.1 1761.0,992.1 1762.0,992.1 1763.0,992.1 1764.0,992.1 1765.0,992.1 1766.0,992.1 1767.0,992.1 1768.0,992.1 1769.0,992.1 1770.0,992.1 1771.0,992.1 1772.0,992.1 1773.0,992.1 1774.0,992.1 1775.0,992.1 1776.0,992.1 1777.0,992.1 1778.0,992.1 1779.0,992.1 1780.0,992.1 1781.0,992.1 1782.0,992.1 1783.0,992.1 1784.0,992.1 1785.0,992.1 1786.0,992.1 1787.0,992.1 1788.0,992.1 1789.0,992.1 1790.0,992.1 1791.0,992.2 1792.0,992.2 1793.0,992.2 1794.0,992.2 1795.0,992.2 1796.0,992.2 1797.0,992.2 1798.0,992.2 1799.0,992.2 1800.0,992.2 1801.0,992.2 1802.0,992.2 1803.0,992.2 1804.0,992.2 1805.0,992.2 1806.0,992.2 1807.0,992.2 1808.0,992.2 1809.0,992.2 1810.0,992.2 1811.0,992.2 1812.0,992.2 1813.0,992.2 1814.0,992.2 1815.0,992.2 1816.0,992.2 1817.0,992.2 1818.0,992.2 1819.0,992.2 1820.0,992.2 1821.0,992.2 1822.0,992.2 1823.0,992.2 1824.0,992.2 1825.0,992.2 1826.0,992.2 1827.0,992.2 1828.0,992.2 1829.0,992.2 1830.0,992.2 1831.0,992.2 1832.0,992.2 1833.0,992.2 1834.0,992.3 1835.0,992.3 1836.0,992.3 1837.0,992.3 1838.0,992.3 1839.0,992.3 1840.0,992.3 1841.0,992.3 1842.0,992.3 1843.0,992.3 1844.0,992.3 1845.0,992.3 1846.0,992.3 1847.0,992.3 1848.0,992.3 1849.0,992.3 1850.0,992.3 1851.0,992.3 1852.0,992.3 1853.0,992.3 1854.0,992.3 1855.0,992.3" fill="none" stroke="#00ff00" stroke-width="4.6" stroke-linejoin="round" stroke-linecap="butt"/>
<polyline points="1566.0,992.1 1855.0,992.4" fill="none" stroke="#00ff00" stroke-width="5.8" stroke-linejoin="round" stroke-linecap="butt"/>
<rect x="1279.00" y="565.70" width="576.20" height="441.90" fill="none" stroke="#000" stroke-width="3.9"/>
<line x1="1343.00" y1="1007.60" x2="1343.00" y2="1016.80" stroke="#000" stroke-width="3.3" stroke-linecap="butt"/>
<line x1="1428.40" y1="1007.60" x2="1428.40" y2="1016.80" stroke="#000" stroke-width="3.3" stroke-linecap="butt"/>
<line x1="1513.80" y1="1007.60" x2="1513.80" y2="1016.80" stroke="#000" stroke-width="3.3" stroke-linecap="butt"/>
<line x1="1599.20" y1="1007.60" x2="1599.20" y2="1016.80" stroke="#000" stroke-width="3.3" stroke-linecap="butt"/>
<line x1="1684.60" y1="1007.60" x2="1684.60" y2="1016.80" stroke="#000" stroke-width="3.3" stroke-linecap="butt"/>
<line x1="1770.00" y1="1007.60" x2="1770.00" y2="1016.80" stroke="#000" stroke-width="3.3" stroke-linecap="butt"/>
<line x1="1855.40" y1="1007.60" x2="1855.40" y2="1016.80" stroke="#000" stroke-width="3.3" stroke-linecap="butt"/>
<line x1="1300.30" y1="1007.60" x2="1300.30" y2="1013.60" stroke="#000" stroke-width="3.3" stroke-linecap="butt"/>
<line x1="1385.70" y1="1007.60" x2="1385.70" y2="1013.60" stroke="#000" stroke-width="3.3" stroke-linecap="butt"/>
<line x1="1471.10" y1="1007.60" x2="1471.10" y2="1013.60" stroke="#000" stroke-width="3.3" stroke-linecap="butt"/>
<line x1="1556.50" y1="1007.60" x2="1556.50" y2="1013.60" stroke="#000" stroke-width="3.3" stroke-linecap="butt"/>
<line x1="1641.90" y1="1007.60" x2="1641.90" y2="1013.60" stroke="#000" stroke-width="3.3" stroke-linecap="butt"/>
<line x1="1727.30" y1="1007.60" x2="1727.30" y2="1013.60" stroke="#000" stroke-width="3.3" stroke-linecap="butt"/>
<line x1="1812.70" y1="1007.60" x2="1812.70" y2="1013.60" stroke="#000" stroke-width="3.3" stroke-linecap="butt"/>
<text transform="translate(1322.57 1039.42) scale(1.0000 1)" font-size="23.17" font-family="Liberation Sans, sans-serif" fill="#050505" stroke="#050505" stroke-width="1.1" stroke-linejoin="round">376</text>
<text transform="translate(1407.97 1039.42) scale(1.0000 1)" font-size="23.17" font-family="Liberation Sans, sans-serif" fill="#050505" stroke="#050505" stroke-width="1.1" stroke-linejoin="round">374</text>
<text transform="translate(1493.37 1039.42) scale(1.0000 1)" font-size="23.17" font-family="Liberation Sans, sans-serif" fill="#050505" stroke="#050505" stroke-width="1.1" stroke-linejoin="round">372</text>
<text transform="translate(1578.77 1039.42) scale(1.0000 1)" font-size="23.17" font-family="Liberation Sans, sans-serif" fill="#050505" stroke="#050505" stroke-width="1.1" stroke-linejoin="round">370</text>
<text transform="translate(1664.17 1039.42) scale(1.0000 1)" font-size="23.17" font-family="Liberation Sans, sans-serif" fill="#050505" stroke="#050505" stroke-width="1.1" stroke-linejoin="round">368</text>
<text transform="translate(1749.57 1039.42) scale(1.0000 1)" font-size="23.17" font-family="Liberation Sans, sans-serif" fill="#050505" stroke="#050505" stroke-width="1.1" stroke-linejoin="round">366</text>
<text transform="translate(1834.97 1039.42) scale(1.0000 1)" font-size="23.17" font-family="Liberation Sans, sans-serif" fill="#050505" stroke="#050505" stroke-width="1.1" stroke-linejoin="round">364</text>
<text transform="translate(1455.85 1062.10) scale(1.0400 1)" font-size="23.48" letter-spacing="1.597" font-family="Liberation Sans, sans-serif" fill="#050505" stroke="#050505" stroke-width="1.2" stroke-linejoin="round">Binding energy (eV<tspan dx="2.50">)</tspan></text>
<text transform="translate(1268.65 872.54) rotate(-90) scale(1.1342 1)" font-size="24.35" font-family="Liberation Sans, sans-serif" fill="#050505" stroke="#050505" stroke-width="1.3" stroke-linejoin="round">Intensity (a.u.)</text>
<text transform="translate(1793.22 614.20) scale(0.9583 1)" font-size="53.80" font-family="Liberation Sans, sans-serif" font-weight="bold" fill="#050505" stroke="#fff" stroke-width="0.3" stroke-linejoin="round">(f)</text>
<text transform="translate(1288.70 604.10) scale(1.1031 1)" font-size="31.59" font-family="Liberation Sans, sans-serif" fill="#050505" stroke="#050505" stroke-width="1.4" stroke-linejoin="round">Ag 3d</text>
<text transform="translate(1465.81 693.22) scale(1.2525 1)" font-size="17.63" font-family="Liberation Serif, serif" fill="#1c1c1c" stroke="#050505" stroke-width="0.7" stroke-linejoin="round">374.34</text>
<line x1="1461.00" y1="696.60" x2="1430.47" y2="724.62" stroke="#050505" stroke-width="2.3" stroke-linecap="round"/>
<polygon points="1422.00,732.40 1429.44,720.55 1434.45,726.00" fill="#050505"/>
<text transform="translate(1559.84 690.22) scale(1.2104 1)" font-size="17.63" font-family="Liberation Serif, serif" fill="#1c1c1c" stroke="#050505" stroke-width="0.7" stroke-linejoin="round">368.34</text>
<line x1="1604.00" y1="665.00" x2="1647.26" y2="623.92" stroke="#050505" stroke-width="2.3" stroke-linecap="round"/>
<polygon points="1655.60,616.00 1648.36,627.98 1643.26,622.61" fill="#050505"/>
</svg>
</body></html>
